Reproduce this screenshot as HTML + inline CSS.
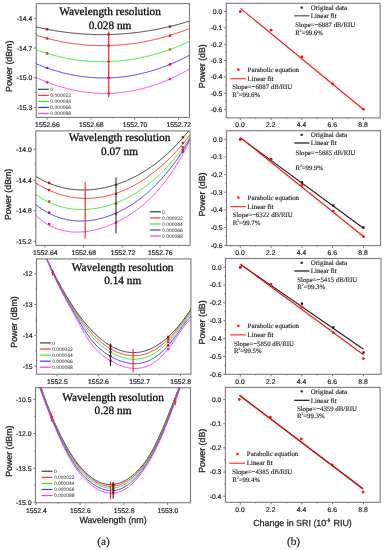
<!DOCTYPE html>
<html><head><meta charset="utf-8"><title>Figure</title>
<style>html,body{margin:0;padding:0;background:#fff;} svg{display:block;} text{text-rendering:geometricPrecision;}</style>
</head><body>
<svg width="384" height="550" viewBox="0 0 384 550">
<rect width="384" height="550" fill="#fff"/>
<rect x="36.25" y="3.6" width="153.25" height="113.80000000000001" fill="none" stroke="#7a7a7a" stroke-width="1.1"/>
<clipPath id="ca1"><rect x="36.25" y="3.6" width="153.25" height="113.80000000000001"/></clipPath>
<g clip-path="url(#ca1)">
<circle cx="47.2" cy="29.3" r="1.35" fill="#ee1111"/>
<circle cx="47.2" cy="38.4" r="1.35" fill="#ee1111"/>
<circle cx="47.2" cy="53.4" r="1.35" fill="#ee1111"/>
<circle cx="47.2" cy="68" r="1.35" fill="#ee1111"/>
<circle cx="47.2" cy="82.3" r="1.35" fill="#ee1111"/>
<circle cx="108.7" cy="34.5" r="1.35" fill="#ee1111"/>
<circle cx="108.7" cy="45.7" r="1.35" fill="#ee1111"/>
<circle cx="108.7" cy="61.6" r="1.35" fill="#ee1111"/>
<circle cx="108.7" cy="77.9" r="1.35" fill="#ee1111"/>
<circle cx="108.7" cy="93.6" r="1.35" fill="#ee1111"/>
<circle cx="170" cy="26.6" r="1.35" fill="#ee1111"/>
<circle cx="170" cy="35.7" r="1.35" fill="#ee1111"/>
<circle cx="170" cy="49.5" r="1.35" fill="#ee1111"/>
<circle cx="170" cy="64.4" r="1.35" fill="#ee1111"/>
<circle cx="170" cy="79.1" r="1.35" fill="#ee1111"/>
<path d="M36.25,26.93 L37.02,27.10 L37.79,27.28 L38.56,27.45 L39.33,27.63 L40.10,27.80 L40.87,27.96 L41.64,28.13 L42.41,28.29 L43.18,28.46 L43.95,28.62 L44.72,28.77 L45.49,28.93 L46.26,29.08 L47.03,29.23 L47.80,29.38 L48.57,29.53 L49.34,29.68 L50.11,29.82 L50.88,29.96 L51.65,30.10 L52.42,30.23 L53.19,30.37 L53.96,30.50 L54.73,30.63 L55.50,30.76 L56.27,30.89 L57.04,31.01 L57.81,31.13 L58.58,31.25 L59.35,31.37 L60.12,31.48 L60.89,31.60 L61.66,31.71 L62.43,31.82 L63.20,31.93 L63.97,32.03 L64.74,32.13 L65.51,32.24 L66.28,32.33 L67.05,32.43 L67.82,32.53 L68.59,32.62 L69.36,32.71 L70.13,32.80 L70.90,32.88 L71.67,32.97 L72.44,33.05 L73.21,33.13 L73.98,33.21 L74.76,33.28 L75.53,33.36 L76.30,33.43 L77.07,33.50 L77.84,33.56 L78.61,33.63 L79.38,33.69 L80.15,33.75 L80.92,33.81 L81.69,33.87 L82.46,33.92 L83.23,33.98 L84.00,34.03 L84.77,34.08 L85.54,34.12 L86.31,34.17 L87.08,34.21 L87.85,34.25 L88.62,34.29 L89.39,34.32 L90.16,34.36 L90.93,34.39 L91.70,34.42 L92.47,34.44 L93.24,34.47 L94.01,34.49 L94.78,34.51 L95.55,34.53 L96.32,34.55 L97.09,34.56 L97.86,34.58 L98.63,34.59 L99.40,34.60 L100.17,34.60 L100.94,34.61 L101.71,34.61 L102.48,34.61 L103.25,34.61 L104.02,34.60 L104.79,34.60 L105.56,34.59 L106.33,34.58 L107.10,34.57 L107.87,34.55 L108.64,34.53 L109.41,34.52 L110.18,34.49 L110.95,34.47 L111.72,34.45 L112.49,34.42 L113.26,34.39 L114.03,34.36 L114.80,34.33 L115.57,34.29 L116.34,34.25 L117.11,34.21 L117.88,34.17 L118.65,34.13 L119.42,34.08 L120.19,34.03 L120.96,33.98 L121.73,33.93 L122.50,33.88 L123.27,33.82 L124.04,33.76 L124.81,33.70 L125.58,33.64 L126.35,33.57 L127.12,33.50 L127.89,33.44 L128.66,33.36 L129.43,33.29 L130.20,33.22 L130.97,33.14 L131.74,33.06 L132.51,32.98 L133.28,32.89 L134.05,32.81 L134.82,32.72 L135.59,32.63 L136.36,32.54 L137.13,32.44 L137.90,32.35 L138.67,32.25 L139.44,32.15 L140.21,32.04 L140.98,31.94 L141.75,31.83 L142.52,31.72 L143.29,31.61 L144.06,31.50 L144.83,31.38 L145.60,31.27 L146.37,31.15 L147.14,31.02 L147.91,30.90 L148.68,30.77 L149.45,30.65 L150.22,30.52 L150.99,30.38 L151.77,30.25 L152.54,30.11 L153.31,29.98 L154.08,29.83 L154.85,29.69 L155.62,29.55 L156.39,29.40 L157.16,29.25 L157.93,29.10 L158.70,28.95 L159.47,28.79 L160.24,28.63 L161.01,28.48 L161.78,28.31 L162.55,28.15 L163.32,27.98 L164.09,27.82 L164.86,27.65 L165.63,27.47 L166.40,27.30 L167.17,27.12 L167.94,26.95 L168.71,26.77 L169.48,26.58 L170.25,26.40 L171.02,26.21 L171.79,26.02 L172.56,25.83 L173.33,25.64 L174.10,25.44 L174.87,25.25 L175.64,25.05 L176.41,24.85 L177.18,24.64 L177.95,24.44 L178.72,24.23 L179.49,24.02 L180.26,23.81 L181.03,23.59 L181.80,23.38 L182.57,23.16 L183.34,22.94 L184.11,22.72 L184.88,22.49 L185.65,22.26 L186.42,22.04 L187.19,21.81 L187.96,21.57 L188.73,21.34 L189.50,21.10" fill="none" stroke="#333333" stroke-width="0.95" />
<path d="M36.25,35.33 L37.02,35.57 L37.79,35.80 L38.56,36.03 L39.33,36.26 L40.10,36.48 L40.87,36.70 L41.64,36.92 L42.41,37.14 L43.18,37.35 L43.95,37.56 L44.72,37.77 L45.49,37.98 L46.26,38.18 L47.03,38.38 L47.80,38.58 L48.57,38.77 L49.34,38.96 L50.11,39.15 L50.88,39.34 L51.65,39.52 L52.42,39.70 L53.19,39.88 L53.96,40.06 L54.73,40.23 L55.50,40.40 L56.27,40.57 L57.04,40.73 L57.81,40.89 L58.58,41.05 L59.35,41.21 L60.12,41.36 L60.89,41.51 L61.66,41.66 L62.43,41.81 L63.20,41.95 L63.97,42.09 L64.74,42.23 L65.51,42.36 L66.28,42.49 L67.05,42.62 L67.82,42.75 L68.59,42.87 L69.36,42.99 L70.13,43.11 L70.90,43.23 L71.67,43.34 L72.44,43.45 L73.21,43.56 L73.98,43.66 L74.76,43.76 L75.53,43.86 L76.30,43.96 L77.07,44.05 L77.84,44.14 L78.61,44.23 L79.38,44.32 L80.15,44.40 L80.92,44.48 L81.69,44.56 L82.46,44.63 L83.23,44.70 L84.00,44.77 L84.77,44.84 L85.54,44.90 L86.31,44.96 L87.08,45.02 L87.85,45.08 L88.62,45.13 L89.39,45.18 L90.16,45.23 L90.93,45.27 L91.70,45.32 L92.47,45.36 L93.24,45.39 L94.01,45.43 L94.78,45.46 L95.55,45.48 L96.32,45.51 L97.09,45.53 L97.86,45.55 L98.63,45.57 L99.40,45.59 L100.17,45.60 L100.94,45.61 L101.71,45.61 L102.48,45.62 L103.25,45.62 L104.02,45.62 L104.79,45.61 L105.56,45.61 L106.33,45.60 L107.10,45.58 L107.87,45.57 L108.64,45.55 L109.41,45.53 L110.18,45.51 L110.95,45.48 L111.72,45.45 L112.49,45.42 L113.26,45.39 L114.03,45.35 L114.80,45.31 L115.57,45.27 L116.34,45.22 L117.11,45.17 L117.88,45.12 L118.65,45.07 L119.42,45.01 L120.19,44.96 L120.96,44.89 L121.73,44.83 L122.50,44.76 L123.27,44.69 L124.04,44.62 L124.81,44.55 L125.58,44.47 L126.35,44.39 L127.12,44.30 L127.89,44.22 L128.66,44.13 L129.43,44.04 L130.20,43.94 L130.97,43.85 L131.74,43.75 L132.51,43.64 L133.28,43.54 L134.05,43.43 L134.82,43.32 L135.59,43.21 L136.36,43.09 L137.13,42.97 L137.90,42.85 L138.67,42.73 L139.44,42.60 L140.21,42.47 L140.98,42.34 L141.75,42.20 L142.52,42.07 L143.29,41.93 L144.06,41.78 L144.83,41.64 L145.60,41.49 L146.37,41.34 L147.14,41.18 L147.91,41.03 L148.68,40.87 L149.45,40.70 L150.22,40.54 L150.99,40.37 L151.77,40.20 L152.54,40.03 L153.31,39.85 L154.08,39.67 L154.85,39.49 L155.62,39.31 L156.39,39.12 L157.16,38.93 L157.93,38.74 L158.70,38.54 L159.47,38.35 L160.24,38.15 L161.01,37.94 L161.78,37.74 L162.55,37.53 L163.32,37.32 L164.09,37.10 L164.86,36.89 L165.63,36.67 L166.40,36.44 L167.17,36.22 L167.94,35.99 L168.71,35.76 L169.48,35.53 L170.25,35.29 L171.02,35.05 L171.79,34.81 L172.56,34.57 L173.33,34.32 L174.10,34.07 L174.87,33.82 L175.64,33.57 L176.41,33.31 L177.18,33.05 L177.95,32.78 L178.72,32.52 L179.49,32.25 L180.26,31.98 L181.03,31.71 L181.80,31.43 L182.57,31.15 L183.34,30.87 L184.11,30.58 L184.88,30.30 L185.65,30.00 L186.42,29.71 L187.19,29.42 L187.96,29.12 L188.73,28.82 L189.50,28.51" fill="none" stroke="#ff2a2a" stroke-width="0.95" />
<path d="M36.25,49.93 L37.02,50.20 L37.79,50.47 L38.56,50.73 L39.33,51.00 L40.10,51.26 L40.87,51.51 L41.64,51.77 L42.41,52.02 L43.18,52.26 L43.95,52.51 L44.72,52.75 L45.49,52.99 L46.26,53.22 L47.03,53.45 L47.80,53.68 L48.57,53.90 L49.34,54.13 L50.11,54.34 L50.88,54.56 L51.65,54.77 L52.42,54.98 L53.19,55.19 L53.96,55.39 L54.73,55.59 L55.50,55.78 L56.27,55.98 L57.04,56.17 L57.81,56.35 L58.58,56.54 L59.35,56.72 L60.12,56.89 L60.89,57.07 L61.66,57.24 L62.43,57.40 L63.20,57.57 L63.97,57.73 L64.74,57.89 L65.51,58.04 L66.28,58.19 L67.05,58.34 L67.82,58.49 L68.59,58.63 L69.36,58.77 L70.13,58.90 L70.90,59.03 L71.67,59.16 L72.44,59.29 L73.21,59.41 L73.98,59.53 L74.76,59.65 L75.53,59.76 L76.30,59.87 L77.07,59.98 L77.84,60.08 L78.61,60.18 L79.38,60.28 L80.15,60.37 L80.92,60.46 L81.69,60.55 L82.46,60.63 L83.23,60.71 L84.00,60.79 L84.77,60.87 L85.54,60.94 L86.31,61.01 L87.08,61.07 L87.85,61.13 L88.62,61.19 L89.39,61.25 L90.16,61.30 L90.93,61.35 L91.70,61.40 L92.47,61.44 L93.24,61.48 L94.01,61.52 L94.78,61.55 L95.55,61.58 L96.32,61.61 L97.09,61.63 L97.86,61.65 L98.63,61.67 L99.40,61.68 L100.17,61.69 L100.94,61.70 L101.71,61.71 L102.48,61.71 L103.25,61.71 L104.02,61.70 L104.79,61.69 L105.56,61.68 L106.33,61.67 L107.10,61.65 L107.87,61.63 L108.64,61.60 L109.41,61.58 L110.18,61.55 L110.95,61.51 L111.72,61.48 L112.49,61.44 L113.26,61.39 L114.03,61.35 L114.80,61.30 L115.57,61.24 L116.34,61.19 L117.11,61.13 L117.88,61.07 L118.65,61.00 L119.42,60.93 L120.19,60.86 L120.96,60.79 L121.73,60.71 L122.50,60.63 L123.27,60.54 L124.04,60.45 L124.81,60.36 L125.58,60.27 L126.35,60.17 L127.12,60.07 L127.89,59.97 L128.66,59.86 L129.43,59.75 L130.20,59.64 L130.97,59.52 L131.74,59.40 L132.51,59.28 L133.28,59.15 L134.05,59.02 L134.82,58.89 L135.59,58.75 L136.36,58.61 L137.13,58.47 L137.90,58.33 L138.67,58.18 L139.44,58.03 L140.21,57.87 L140.98,57.71 L141.75,57.55 L142.52,57.39 L143.29,57.22 L144.06,57.05 L144.83,56.88 L145.60,56.70 L146.37,56.52 L147.14,56.34 L147.91,56.15 L148.68,55.96 L149.45,55.77 L150.22,55.57 L150.99,55.37 L151.77,55.17 L152.54,54.96 L153.31,54.75 L154.08,54.54 L154.85,54.32 L155.62,54.11 L156.39,53.88 L157.16,53.66 L157.93,53.43 L158.70,53.20 L159.47,52.96 L160.24,52.73 L161.01,52.49 L161.78,52.24 L162.55,51.99 L163.32,51.74 L164.09,51.49 L164.86,51.23 L165.63,50.97 L166.40,50.71 L167.17,50.44 L167.94,50.17 L168.71,49.90 L169.48,49.63 L170.25,49.35 L171.02,49.06 L171.79,48.78 L172.56,48.49 L173.33,48.20 L174.10,47.90 L174.87,47.60 L175.64,47.30 L176.41,47.00 L177.18,46.69 L177.95,46.38 L178.72,46.06 L179.49,45.75 L180.26,45.43 L181.03,45.10 L181.80,44.78 L182.57,44.45 L183.34,44.11 L184.11,43.78 L184.88,43.44 L185.65,43.09 L186.42,42.75 L187.19,42.40 L187.96,42.04 L188.73,41.69 L189.50,41.33" fill="none" stroke="#22ee22" stroke-width="0.95" />
<path d="M36.25,63.85 L37.02,64.17 L37.79,64.48 L38.56,64.79 L39.33,65.10 L40.10,65.41 L40.87,65.71 L41.64,66.01 L42.41,66.30 L43.18,66.59 L43.95,66.88 L44.72,67.16 L45.49,67.44 L46.26,67.72 L47.03,67.99 L47.80,68.26 L48.57,68.52 L49.34,68.79 L50.11,69.04 L50.88,69.30 L51.65,69.55 L52.42,69.79 L53.19,70.04 L53.96,70.28 L54.73,70.51 L55.50,70.74 L56.27,70.97 L57.04,71.20 L57.81,71.42 L58.58,71.63 L59.35,71.85 L60.12,72.06 L60.89,72.26 L61.66,72.47 L62.43,72.67 L63.20,72.86 L63.97,73.05 L64.74,73.24 L65.51,73.42 L66.28,73.60 L67.05,73.78 L67.82,73.95 L68.59,74.12 L69.36,74.29 L70.13,74.45 L70.90,74.61 L71.67,74.76 L72.44,74.92 L73.21,75.06 L73.98,75.21 L74.76,75.35 L75.53,75.48 L76.30,75.62 L77.07,75.75 L77.84,75.87 L78.61,75.99 L79.38,76.11 L80.15,76.23 L80.92,76.34 L81.69,76.44 L82.46,76.55 L83.23,76.65 L84.00,76.74 L84.77,76.83 L85.54,76.92 L86.31,77.01 L87.08,77.09 L87.85,77.17 L88.62,77.24 L89.39,77.31 L90.16,77.38 L90.93,77.44 L91.70,77.50 L92.47,77.56 L93.24,77.61 L94.01,77.66 L94.78,77.70 L95.55,77.74 L96.32,77.78 L97.09,77.81 L97.86,77.84 L98.63,77.87 L99.40,77.89 L100.17,77.91 L100.94,77.93 L101.71,77.94 L102.48,77.95 L103.25,77.95 L104.02,77.95 L104.79,77.95 L105.56,77.94 L106.33,77.93 L107.10,77.92 L107.87,77.90 L108.64,77.88 L109.41,77.85 L110.18,77.82 L110.95,77.79 L111.72,77.76 L112.49,77.72 L113.26,77.67 L114.03,77.63 L114.80,77.57 L115.57,77.52 L116.34,77.46 L117.11,77.40 L117.88,77.34 L118.65,77.27 L119.42,77.19 L120.19,77.12 L120.96,77.04 L121.73,76.95 L122.50,76.87 L123.27,76.77 L124.04,76.68 L124.81,76.58 L125.58,76.48 L126.35,76.37 L127.12,76.26 L127.89,76.15 L128.66,76.03 L129.43,75.91 L130.20,75.79 L130.97,75.66 L131.74,75.53 L132.51,75.39 L133.28,75.26 L134.05,75.11 L134.82,74.97 L135.59,74.82 L136.36,74.66 L137.13,74.51 L137.90,74.35 L138.67,74.18 L139.44,74.01 L140.21,73.84 L140.98,73.67 L141.75,73.49 L142.52,73.30 L143.29,73.12 L144.06,72.93 L144.83,72.73 L145.60,72.53 L146.37,72.33 L147.14,72.13 L147.91,71.92 L148.68,71.71 L149.45,71.49 L150.22,71.27 L150.99,71.05 L151.77,70.82 L152.54,70.59 L153.31,70.36 L154.08,70.12 L154.85,69.88 L155.62,69.63 L156.39,69.38 L157.16,69.13 L157.93,68.87 L158.70,68.61 L159.47,68.35 L160.24,68.08 L161.01,67.81 L161.78,67.54 L162.55,67.26 L163.32,66.98 L164.09,66.69 L164.86,66.40 L165.63,66.11 L166.40,65.81 L167.17,65.51 L167.94,65.21 L168.71,64.90 L169.48,64.59 L170.25,64.27 L171.02,63.96 L171.79,63.63 L172.56,63.31 L173.33,62.98 L174.10,62.64 L174.87,62.31 L175.64,61.97 L176.41,61.62 L177.18,61.27 L177.95,60.92 L178.72,60.57 L179.49,60.21 L180.26,59.84 L181.03,59.48 L181.80,59.11 L182.57,58.73 L183.34,58.36 L184.11,57.98 L184.88,57.59 L185.65,57.20 L186.42,56.81 L187.19,56.42 L187.96,56.02 L188.73,55.61 L189.50,55.21" fill="none" stroke="#3333ff" stroke-width="0.95" />
<path d="M36.25,77.47 L37.02,77.83 L37.79,78.18 L38.56,78.53 L39.33,78.87 L40.10,79.21 L40.87,79.55 L41.64,79.88 L42.41,80.21 L43.18,80.54 L43.95,80.86 L44.72,81.17 L45.49,81.48 L46.26,81.79 L47.03,82.10 L47.80,82.40 L48.57,82.69 L49.34,82.98 L50.11,83.27 L50.88,83.56 L51.65,83.84 L52.42,84.11 L53.19,84.38 L53.96,84.65 L54.73,84.92 L55.50,85.17 L56.27,85.43 L57.04,85.68 L57.81,85.93 L58.58,86.17 L59.35,86.41 L60.12,86.65 L60.89,86.88 L61.66,87.11 L62.43,87.33 L63.20,87.55 L63.97,87.77 L64.74,87.98 L65.51,88.18 L66.28,88.39 L67.05,88.59 L67.82,88.78 L68.59,88.97 L69.36,89.16 L70.13,89.34 L70.90,89.52 L71.67,89.70 L72.44,89.87 L73.21,90.04 L73.98,90.20 L74.76,90.36 L75.53,90.51 L76.30,90.66 L77.07,90.81 L77.84,90.95 L78.61,91.09 L79.38,91.23 L80.15,91.36 L80.92,91.48 L81.69,91.61 L82.46,91.72 L83.23,91.84 L84.00,91.95 L84.77,92.06 L85.54,92.16 L86.31,92.26 L87.08,92.35 L87.85,92.44 L88.62,92.53 L89.39,92.61 L90.16,92.69 L90.93,92.76 L91.70,92.83 L92.47,92.90 L93.24,92.96 L94.01,93.02 L94.78,93.07 L95.55,93.12 L96.32,93.17 L97.09,93.21 L97.86,93.25 L98.63,93.28 L99.40,93.31 L100.17,93.34 L100.94,93.36 L101.71,93.38 L102.48,93.39 L103.25,93.40 L104.02,93.41 L104.79,93.41 L105.56,93.41 L106.33,93.40 L107.10,93.39 L107.87,93.38 L108.64,93.36 L109.41,93.34 L110.18,93.31 L110.95,93.28 L111.72,93.25 L112.49,93.21 L113.26,93.16 L114.03,93.12 L114.80,93.07 L115.57,93.01 L116.34,92.95 L117.11,92.89 L117.88,92.82 L118.65,92.75 L119.42,92.68 L120.19,92.60 L120.96,92.52 L121.73,92.43 L122.50,92.34 L123.27,92.24 L124.04,92.14 L124.81,92.04 L125.58,91.93 L126.35,91.82 L127.12,91.71 L127.89,91.59 L128.66,91.47 L129.43,91.34 L130.20,91.21 L130.97,91.07 L131.74,90.93 L132.51,90.79 L133.28,90.64 L134.05,90.49 L134.82,90.33 L135.59,90.17 L136.36,90.01 L137.13,89.84 L137.90,89.67 L138.67,89.50 L139.44,89.32 L140.21,89.13 L140.98,88.95 L141.75,88.75 L142.52,88.56 L143.29,88.36 L144.06,88.15 L144.83,87.95 L145.60,87.73 L146.37,87.52 L147.14,87.30 L147.91,87.07 L148.68,86.85 L149.45,86.61 L150.22,86.38 L150.99,86.14 L151.77,85.89 L152.54,85.65 L153.31,85.39 L154.08,85.14 L154.85,84.88 L155.62,84.61 L156.39,84.34 L157.16,84.07 L157.93,83.80 L158.70,83.52 L159.47,83.23 L160.24,82.94 L161.01,82.65 L161.78,82.35 L162.55,82.05 L163.32,81.75 L164.09,81.44 L164.86,81.13 L165.63,80.81 L166.40,80.49 L167.17,80.16 L167.94,79.84 L168.71,79.50 L169.48,79.17 L170.25,78.83 L171.02,78.48 L171.79,78.13 L172.56,77.78 L173.33,77.42 L174.10,77.06 L174.87,76.70 L175.64,76.33 L176.41,75.95 L177.18,75.58 L177.95,75.19 L178.72,74.81 L179.49,74.42 L180.26,74.03 L181.03,73.63 L181.80,73.23 L182.57,72.82 L183.34,72.41 L184.11,72.00 L184.88,71.58 L185.65,71.16 L186.42,70.74 L187.19,70.31 L187.96,69.87 L188.73,69.43 L189.50,68.99" fill="none" stroke="#ff33ff" stroke-width="0.95" />
<line x1="108.7" y1="31.8" x2="108.7" y2="97.3" stroke="#ff1a1a" stroke-width="1.1"/>
</g>
<text x="110" y="15.200000000000001" font-family="Liberation Serif, serif" font-size="11.3" fill="#050505" stroke="#050505" stroke-width="0.26" text-anchor="middle" >Wavelength resolution</text>
<text x="110" y="28.6" font-family="Liberation Serif, serif" font-size="11.3" fill="#050505" stroke="#050505" stroke-width="0.26" text-anchor="middle" >0.028 nm</text>
<line x1="38" y1="89.3" x2="48.9" y2="89.3" stroke="#333333" stroke-width="1.15"/>
<text x="50.3" y="91.1" font-family="Liberation Sans, sans-serif" font-size="4.95" fill="#404040" stroke="#404040" stroke-width="0.04" text-anchor="start" >0</text>
<line x1="38" y1="95.34" x2="48.9" y2="95.34" stroke="#ff2a2a" stroke-width="1.15"/>
<text x="50.3" y="97.14" font-family="Liberation Sans, sans-serif" font-size="4.95" fill="#404040" stroke="#404040" stroke-width="0.04" text-anchor="start" >0.000022</text>
<line x1="38" y1="101.38" x2="48.9" y2="101.38" stroke="#22ee22" stroke-width="1.15"/>
<text x="50.3" y="103.17999999999999" font-family="Liberation Sans, sans-serif" font-size="4.95" fill="#404040" stroke="#404040" stroke-width="0.04" text-anchor="start" >0.000044</text>
<line x1="38" y1="107.42" x2="48.9" y2="107.42" stroke="#3333ff" stroke-width="1.15"/>
<text x="50.3" y="109.22" font-family="Liberation Sans, sans-serif" font-size="4.95" fill="#404040" stroke="#404040" stroke-width="0.04" text-anchor="start" >0.000066</text>
<line x1="38" y1="113.46" x2="48.9" y2="113.46" stroke="#ff33ff" stroke-width="1.15"/>
<text x="50.3" y="115.25999999999999" font-family="Liberation Sans, sans-serif" font-size="4.95" fill="#404040" stroke="#404040" stroke-width="0.04" text-anchor="start" >0.000088</text>
<line x1="34.05" y1="18.4" x2="36.25" y2="18.4" stroke="#7a7a7a" stroke-width="1"/>
<text x="32.25" y="20.799999999999997" font-family="Liberation Sans, sans-serif" font-size="6.8" fill="#1e1e1e" stroke="#1e1e1e" stroke-width="0.2" text-anchor="end" >-14.4</text>
<line x1="34.05" y1="48.1" x2="36.25" y2="48.1" stroke="#7a7a7a" stroke-width="1"/>
<text x="32.25" y="50.5" font-family="Liberation Sans, sans-serif" font-size="6.8" fill="#1e1e1e" stroke="#1e1e1e" stroke-width="0.2" text-anchor="end" >-14.7</text>
<line x1="34.05" y1="77.7" x2="36.25" y2="77.7" stroke="#7a7a7a" stroke-width="1"/>
<text x="32.25" y="80.10000000000001" font-family="Liberation Sans, sans-serif" font-size="6.8" fill="#1e1e1e" stroke="#1e1e1e" stroke-width="0.2" text-anchor="end" >-15.0</text>
<line x1="34.05" y1="107.4" x2="36.25" y2="107.4" stroke="#7a7a7a" stroke-width="1"/>
<text x="32.25" y="109.80000000000001" font-family="Liberation Sans, sans-serif" font-size="6.8" fill="#1e1e1e" stroke="#1e1e1e" stroke-width="0.2" text-anchor="end" >-15.3</text>
<line x1="35.05" y1="33.2" x2="36.25" y2="33.2" stroke="#7a7a7a" stroke-width="0.8"/>
<line x1="35.05" y1="62.9" x2="36.25" y2="62.9" stroke="#7a7a7a" stroke-width="0.8"/>
<line x1="35.05" y1="92.5" x2="36.25" y2="92.5" stroke="#7a7a7a" stroke-width="0.8"/>
<line x1="47.1" y1="117.4" x2="47.1" y2="119.60000000000001" stroke="#7a7a7a" stroke-width="1"/>
<text x="47.4" y="127.30000000000001" font-family="Liberation Sans, sans-serif" font-size="6.8" fill="#1e1e1e" stroke="#1e1e1e" stroke-width="0.2" text-anchor="middle" >1552.66</text>
<line x1="90.9" y1="117.4" x2="90.9" y2="119.60000000000001" stroke="#7a7a7a" stroke-width="1"/>
<text x="91.2" y="127.30000000000001" font-family="Liberation Sans, sans-serif" font-size="6.8" fill="#1e1e1e" stroke="#1e1e1e" stroke-width="0.2" text-anchor="middle" >1552.68</text>
<line x1="134.7" y1="117.4" x2="134.7" y2="119.60000000000001" stroke="#7a7a7a" stroke-width="1"/>
<text x="135.0" y="127.30000000000001" font-family="Liberation Sans, sans-serif" font-size="6.8" fill="#1e1e1e" stroke="#1e1e1e" stroke-width="0.2" text-anchor="middle" >1552.70</text>
<line x1="178.5" y1="117.4" x2="178.5" y2="119.60000000000001" stroke="#7a7a7a" stroke-width="1"/>
<text x="178.8" y="127.30000000000001" font-family="Liberation Sans, sans-serif" font-size="6.8" fill="#1e1e1e" stroke="#1e1e1e" stroke-width="0.2" text-anchor="middle" >1552.72</text>
<line x1="69" y1="117.4" x2="69" y2="118.60000000000001" stroke="#7a7a7a" stroke-width="0.8"/>
<line x1="112.8" y1="117.4" x2="112.8" y2="118.60000000000001" stroke="#7a7a7a" stroke-width="0.8"/>
<line x1="156.6" y1="117.4" x2="156.6" y2="118.60000000000001" stroke="#7a7a7a" stroke-width="0.8"/>
<text x="11.8" y="66.3" font-family="Liberation Sans, sans-serif" font-size="8.8" fill="#1e1e1e" stroke="#1e1e1e" stroke-width="0.3" text-anchor="middle" transform="rotate(-90 11.8 66.3)">Power (dBm)</text>
<rect x="35.8" y="130.9" width="154.3" height="114.5" fill="none" stroke="#7a7a7a" stroke-width="1.1"/>
<clipPath id="ca2"><rect x="35.8" y="130.9" width="154.3" height="114.5"/></clipPath>
<g clip-path="url(#ca2)">
<circle cx="49.1" cy="182.9" r="1.35" fill="#ee1111"/>
<circle cx="49.1" cy="190" r="1.35" fill="#ee1111"/>
<circle cx="49.1" cy="201.5" r="1.35" fill="#ee1111"/>
<circle cx="49.1" cy="212.5" r="1.35" fill="#ee1111"/>
<circle cx="49.1" cy="224" r="1.35" fill="#ee1111"/>
<circle cx="116" cy="184.8" r="1.35" fill="#ee1111"/>
<circle cx="116" cy="193.8" r="1.35" fill="#ee1111"/>
<circle cx="116" cy="203.4" r="1.35" fill="#ee1111"/>
<circle cx="116" cy="213.7" r="1.35" fill="#ee1111"/>
<circle cx="116" cy="222.7" r="1.35" fill="#ee1111"/>
<circle cx="182.9" cy="137.3" r="1.35" fill="#ee1111"/>
<circle cx="182.9" cy="143.1" r="1.35" fill="#ee1111"/>
<circle cx="182.9" cy="147.2" r="1.35" fill="#ee1111"/>
<circle cx="182.9" cy="149.6" r="1.35" fill="#ee1111"/>
<circle cx="182.9" cy="151.8" r="1.35" fill="#ee1111"/>
<path d="M35.80,176.38 L36.58,176.85 L37.35,177.32 L38.13,177.78 L38.90,178.22 L39.68,178.66 L40.45,179.09 L41.23,179.51 L42.00,179.91 L42.78,180.31 L43.55,180.70 L44.33,181.09 L45.10,181.46 L45.88,181.82 L46.66,182.18 L47.43,182.52 L48.21,182.86 L48.98,183.19 L49.76,183.51 L50.53,183.82 L51.31,184.12 L52.08,184.41 L52.86,184.70 L53.63,184.98 L54.41,185.25 L55.18,185.51 L55.96,185.76 L56.74,186.01 L57.51,186.24 L58.29,186.47 L59.06,186.70 L59.84,186.91 L60.61,187.12 L61.39,187.31 L62.16,187.51 L62.94,187.69 L63.71,187.87 L64.49,188.03 L65.26,188.20 L66.04,188.35 L66.82,188.50 L67.59,188.64 L68.37,188.77 L69.14,188.89 L69.92,189.01 L70.69,189.12 L71.47,189.23 L72.24,189.33 L73.02,189.42 L73.79,189.50 L74.57,189.58 L75.34,189.65 L76.12,189.71 L76.89,189.77 L77.67,189.82 L78.45,189.86 L79.22,189.90 L80.00,189.93 L80.77,189.96 L81.55,189.97 L82.32,189.98 L83.10,189.99 L83.87,189.99 L84.65,189.98 L85.42,189.97 L86.20,189.95 L86.97,189.92 L87.75,189.89 L88.53,189.85 L89.30,189.81 L90.08,189.75 L90.85,189.70 L91.63,189.63 L92.40,189.57 L93.18,189.49 L93.95,189.41 L94.73,189.32 L95.50,189.23 L96.28,189.13 L97.05,189.02 L97.83,188.91 L98.61,188.80 L99.38,188.67 L100.16,188.54 L100.93,188.41 L101.71,188.27 L102.48,188.12 L103.26,187.97 L104.03,187.81 L104.81,187.65 L105.58,187.48 L106.36,187.30 L107.13,187.12 L107.91,186.93 L108.69,186.74 L109.46,186.54 L110.24,186.34 L111.01,186.12 L111.79,185.91 L112.56,185.69 L113.34,185.46 L114.11,185.22 L114.89,184.98 L115.66,184.74 L116.44,184.48 L117.21,184.23 L117.99,183.96 L118.77,183.69 L119.54,183.42 L120.32,183.14 L121.09,182.85 L121.87,182.55 L122.64,182.26 L123.42,181.95 L124.19,181.64 L124.97,181.32 L125.74,181.00 L126.52,180.67 L127.29,180.33 L128.07,179.99 L128.85,179.64 L129.62,179.29 L130.40,178.93 L131.17,178.56 L131.95,178.19 L132.72,177.81 L133.50,177.42 L134.27,177.03 L135.05,176.63 L135.82,176.23 L136.60,175.81 L137.37,175.40 L138.15,174.97 L138.93,174.54 L139.70,174.10 L140.48,173.66 L141.25,173.21 L142.03,172.75 L142.80,172.29 L143.58,171.82 L144.35,171.34 L145.13,170.85 L145.90,170.36 L146.68,169.86 L147.45,169.36 L148.23,168.85 L149.01,168.33 L149.78,167.80 L150.56,167.27 L151.33,166.72 L152.11,166.18 L152.88,165.62 L153.66,165.06 L154.43,164.49 L155.21,163.91 L155.98,163.32 L156.76,162.73 L157.53,162.13 L158.31,161.52 L159.08,160.90 L159.86,160.27 L160.64,159.64 L161.41,159.00 L162.19,158.35 L162.96,157.69 L163.74,157.03 L164.51,156.36 L165.29,155.67 L166.06,154.98 L166.84,154.29 L167.61,153.58 L168.39,152.86 L169.16,152.14 L169.94,151.40 L170.72,150.66 L171.49,149.91 L172.27,149.15 L173.04,148.38 L173.82,147.60 L174.59,146.81 L175.37,146.02 L176.14,145.21 L176.92,144.40 L177.69,143.57 L178.47,142.74 L179.24,141.89 L180.02,141.04 L180.80,140.17 L181.57,139.30 L182.35,138.41 L183.12,137.52 L183.90,136.61 L184.67,135.70 L185.45,134.77 L186.22,133.83 L187.00,132.89 L187.77,131.93 L188.55,130.96 L189.32,129.98 L190.10,128.99" fill="none" stroke="#333333" stroke-width="0.95" />
<path d="M35.80,183.03 L36.58,183.52 L37.35,184.00 L38.13,184.47 L38.90,184.93 L39.68,185.38 L40.45,185.82 L41.23,186.26 L42.00,186.69 L42.78,187.11 L43.55,187.52 L44.33,187.92 L45.10,188.32 L45.88,188.70 L46.66,189.08 L47.43,189.45 L48.21,189.81 L48.98,190.17 L49.76,190.52 L50.53,190.85 L51.31,191.18 L52.08,191.51 L52.86,191.82 L53.63,192.13 L54.41,192.43 L55.18,192.72 L55.96,193.01 L56.74,193.28 L57.51,193.55 L58.29,193.82 L59.06,194.07 L59.84,194.32 L60.61,194.55 L61.39,194.79 L62.16,195.01 L62.94,195.23 L63.71,195.44 L64.49,195.64 L65.26,195.83 L66.04,196.02 L66.82,196.20 L67.59,196.37 L68.37,196.54 L69.14,196.70 L69.92,196.85 L70.69,196.99 L71.47,197.13 L72.24,197.26 L73.02,197.38 L73.79,197.49 L74.57,197.60 L75.34,197.70 L76.12,197.79 L76.89,197.88 L77.67,197.96 L78.45,198.03 L79.22,198.10 L80.00,198.16 L80.77,198.21 L81.55,198.25 L82.32,198.29 L83.10,198.32 L83.87,198.35 L84.65,198.36 L85.42,198.37 L86.20,198.38 L86.97,198.37 L87.75,198.36 L88.53,198.34 L89.30,198.32 L90.08,198.29 L90.85,198.25 L91.63,198.21 L92.40,198.16 L93.18,198.10 L93.95,198.03 L94.73,197.96 L95.50,197.88 L96.28,197.80 L97.05,197.70 L97.83,197.60 L98.61,197.50 L99.38,197.39 L100.16,197.27 L100.93,197.14 L101.71,197.01 L102.48,196.87 L103.26,196.72 L104.03,196.57 L104.81,196.41 L105.58,196.24 L106.36,196.07 L107.13,195.89 L107.91,195.70 L108.69,195.51 L109.46,195.31 L110.24,195.10 L111.01,194.89 L111.79,194.67 L112.56,194.44 L113.34,194.21 L114.11,193.97 L114.89,193.72 L115.66,193.46 L116.44,193.20 L117.21,192.93 L117.99,192.66 L118.77,192.38 L119.54,192.09 L120.32,191.79 L121.09,191.49 L121.87,191.18 L122.64,190.87 L123.42,190.55 L124.19,190.22 L124.97,189.88 L125.74,189.54 L126.52,189.19 L127.29,188.83 L128.07,188.46 L128.85,188.09 L129.62,187.72 L130.40,187.33 L131.17,186.94 L131.95,186.54 L132.72,186.13 L133.50,185.72 L134.27,185.30 L135.05,184.87 L135.82,184.44 L136.60,184.00 L137.37,183.55 L138.15,183.10 L138.93,182.63 L139.70,182.16 L140.48,181.69 L141.25,181.20 L142.03,180.71 L142.80,180.21 L143.58,179.71 L144.35,179.19 L145.13,178.67 L145.90,178.14 L146.68,177.61 L147.45,177.07 L148.23,176.52 L149.01,175.96 L149.78,175.39 L150.56,174.82 L151.33,174.24 L152.11,173.65 L152.88,173.06 L153.66,172.45 L154.43,171.84 L155.21,171.23 L155.98,170.60 L156.76,169.97 L157.53,169.32 L158.31,168.68 L159.08,168.02 L159.86,167.35 L160.64,166.68 L161.41,166.00 L162.19,165.31 L162.96,164.62 L163.74,163.91 L164.51,163.20 L165.29,162.48 L166.06,161.75 L166.84,161.01 L167.61,160.27 L168.39,159.51 L169.16,158.75 L169.94,157.98 L170.72,157.20 L171.49,156.42 L172.27,155.62 L173.04,154.82 L173.82,154.01 L174.59,153.19 L175.37,152.36 L176.14,151.52 L176.92,150.67 L177.69,149.82 L178.47,148.95 L179.24,148.08 L180.02,147.20 L180.80,146.31 L181.57,145.41 L182.35,144.50 L183.12,143.58 L183.90,142.66 L184.67,141.72 L185.45,140.78 L186.22,139.83 L187.00,138.86 L187.77,137.89 L188.55,136.91 L189.32,135.92 L190.10,134.92" fill="none" stroke="#ff2a2a" stroke-width="0.95" />
<path d="M35.80,194.28 L36.58,194.83 L37.35,195.37 L38.13,195.90 L38.90,196.42 L39.68,196.92 L40.45,197.42 L41.23,197.90 L42.00,198.37 L42.78,198.83 L43.55,199.28 L44.33,199.72 L45.10,200.14 L45.88,200.56 L46.66,200.97 L47.43,201.36 L48.21,201.75 L48.98,202.12 L49.76,202.48 L50.53,202.84 L51.31,203.18 L52.08,203.51 L52.86,203.84 L53.63,204.15 L54.41,204.45 L55.18,204.75 L55.96,205.03 L56.74,205.31 L57.51,205.57 L58.29,205.83 L59.06,206.08 L59.84,206.31 L60.61,206.54 L61.39,206.76 L62.16,206.97 L62.94,207.18 L63.71,207.37 L64.49,207.55 L65.26,207.73 L66.04,207.90 L66.82,208.06 L67.59,208.21 L68.37,208.35 L69.14,208.48 L69.92,208.61 L70.69,208.73 L71.47,208.83 L72.24,208.94 L73.02,209.03 L73.79,209.11 L74.57,209.19 L75.34,209.26 L76.12,209.32 L76.89,209.38 L77.67,209.42 L78.45,209.46 L79.22,209.49 L80.00,209.52 L80.77,209.53 L81.55,209.54 L82.32,209.54 L83.10,209.54 L83.87,209.53 L84.65,209.51 L85.42,209.48 L86.20,209.44 L86.97,209.40 L87.75,209.35 L88.53,209.30 L89.30,209.23 L90.08,209.16 L90.85,209.09 L91.63,209.00 L92.40,208.91 L93.18,208.81 L93.95,208.71 L94.73,208.60 L95.50,208.48 L96.28,208.35 L97.05,208.22 L97.83,208.08 L98.61,207.94 L99.38,207.78 L100.16,207.63 L100.93,207.46 L101.71,207.29 L102.48,207.11 L103.26,206.92 L104.03,206.73 L104.81,206.53 L105.58,206.32 L106.36,206.11 L107.13,205.89 L107.91,205.67 L108.69,205.44 L109.46,205.20 L110.24,204.95 L111.01,204.70 L111.79,204.44 L112.56,204.17 L113.34,203.90 L114.11,203.62 L114.89,203.34 L115.66,203.04 L116.44,202.75 L117.21,202.44 L117.99,202.13 L118.77,201.81 L119.54,201.48 L120.32,201.15 L121.09,200.81 L121.87,200.46 L122.64,200.11 L123.42,199.75 L124.19,199.38 L124.97,199.01 L125.74,198.63 L126.52,198.24 L127.29,197.84 L128.07,197.44 L128.85,197.03 L129.62,196.62 L130.40,196.19 L131.17,195.76 L131.95,195.32 L132.72,194.88 L133.50,194.43 L134.27,193.97 L135.05,193.50 L135.82,193.03 L136.60,192.54 L137.37,192.05 L138.15,191.56 L138.93,191.05 L139.70,190.54 L140.48,190.02 L141.25,189.49 L142.03,188.96 L142.80,188.41 L143.58,187.86 L144.35,187.30 L145.13,186.74 L145.90,186.16 L146.68,185.58 L147.45,184.98 L148.23,184.38 L149.01,183.77 L149.78,183.16 L150.56,182.53 L151.33,181.90 L152.11,181.25 L152.88,180.60 L153.66,179.94 L154.43,179.27 L155.21,178.60 L155.98,177.91 L156.76,177.21 L157.53,176.51 L158.31,175.79 L159.08,175.07 L159.86,174.33 L160.64,173.59 L161.41,172.84 L162.19,172.08 L162.96,171.30 L163.74,170.52 L164.51,169.73 L165.29,168.93 L166.06,168.12 L166.84,167.30 L167.61,166.46 L168.39,165.62 L169.16,164.77 L169.94,163.90 L170.72,163.03 L171.49,162.14 L172.27,161.25 L173.04,160.34 L173.82,159.42 L174.59,158.49 L175.37,157.55 L176.14,156.60 L176.92,155.63 L177.69,154.66 L178.47,153.67 L179.24,152.67 L180.02,151.66 L180.80,150.63 L181.57,149.60 L182.35,148.55 L183.12,147.49 L183.90,146.41 L184.67,145.33 L185.45,144.23 L186.22,143.12 L187.00,141.99 L187.77,140.85 L188.55,139.70 L189.32,138.53 L190.10,137.35" fill="none" stroke="#22ee22" stroke-width="0.95" />
<path d="M35.80,204.59 L36.58,205.20 L37.35,205.80 L38.13,206.39 L38.90,206.96 L39.68,207.52 L40.45,208.07 L41.23,208.60 L42.00,209.12 L42.78,209.63 L43.55,210.12 L44.33,210.60 L45.10,211.07 L45.88,211.53 L46.66,211.97 L47.43,212.41 L48.21,212.83 L48.98,213.23 L49.76,213.63 L50.53,214.02 L51.31,214.39 L52.08,214.75 L52.86,215.10 L53.63,215.44 L54.41,215.77 L55.18,216.09 L55.96,216.40 L56.74,216.69 L57.51,216.98 L58.29,217.26 L59.06,217.52 L59.84,217.77 L60.61,218.02 L61.39,218.25 L62.16,218.48 L62.94,218.69 L63.71,218.89 L64.49,219.09 L65.26,219.27 L66.04,219.45 L66.82,219.61 L67.59,219.77 L68.37,219.91 L69.14,220.05 L69.92,220.18 L70.69,220.30 L71.47,220.40 L72.24,220.51 L73.02,220.60 L73.79,220.68 L74.57,220.75 L75.34,220.82 L76.12,220.87 L76.89,220.92 L77.67,220.96 L78.45,220.99 L79.22,221.01 L80.00,221.03 L80.77,221.03 L81.55,221.03 L82.32,221.02 L83.10,221.00 L83.87,220.97 L84.65,220.94 L85.42,220.89 L86.20,220.84 L86.97,220.78 L87.75,220.72 L88.53,220.64 L89.30,220.56 L90.08,220.47 L90.85,220.37 L91.63,220.26 L92.40,220.15 L93.18,220.03 L93.95,219.90 L94.73,219.76 L95.50,219.62 L96.28,219.47 L97.05,219.31 L97.83,219.14 L98.61,218.97 L99.38,218.78 L100.16,218.60 L100.93,218.40 L101.71,218.20 L102.48,217.98 L103.26,217.77 L104.03,217.54 L104.81,217.31 L105.58,217.07 L106.36,216.82 L107.13,216.56 L107.91,216.30 L108.69,216.03 L109.46,215.75 L110.24,215.47 L111.01,215.18 L111.79,214.88 L112.56,214.57 L113.34,214.25 L114.11,213.93 L114.89,213.60 L115.66,213.27 L116.44,212.92 L117.21,212.57 L117.99,212.21 L118.77,211.85 L119.54,211.47 L120.32,211.09 L121.09,210.70 L121.87,210.31 L122.64,209.90 L123.42,209.49 L124.19,209.07 L124.97,208.65 L125.74,208.21 L126.52,207.77 L127.29,207.32 L128.07,206.86 L128.85,206.40 L129.62,205.92 L130.40,205.44 L131.17,204.95 L131.95,204.45 L132.72,203.95 L133.50,203.43 L134.27,202.91 L135.05,202.38 L135.82,201.84 L136.60,201.29 L137.37,200.74 L138.15,200.18 L138.93,199.60 L139.70,199.02 L140.48,198.43 L141.25,197.83 L142.03,197.23 L142.80,196.61 L143.58,195.99 L144.35,195.35 L145.13,194.71 L145.90,194.06 L146.68,193.40 L147.45,192.73 L148.23,192.05 L149.01,191.36 L149.78,190.66 L150.56,189.95 L151.33,189.23 L152.11,188.50 L152.88,187.77 L153.66,187.02 L154.43,186.26 L155.21,185.49 L155.98,184.72 L156.76,183.93 L157.53,183.13 L158.31,182.32 L159.08,181.50 L159.86,180.67 L160.64,179.83 L161.41,178.98 L162.19,178.11 L162.96,177.24 L163.74,176.35 L164.51,175.46 L165.29,174.55 L166.06,173.63 L166.84,172.70 L167.61,171.75 L168.39,170.80 L169.16,169.83 L169.94,168.85 L170.72,167.86 L171.49,166.86 L172.27,165.84 L173.04,164.81 L173.82,163.77 L174.59,162.71 L175.37,161.65 L176.14,160.56 L176.92,159.47 L177.69,158.36 L178.47,157.24 L179.24,156.11 L180.02,154.96 L180.80,153.79 L181.57,152.62 L182.35,151.43 L183.12,150.22 L183.90,149.00 L184.67,147.76 L185.45,146.51 L186.22,145.25 L187.00,143.97 L187.77,142.67 L188.55,141.36 L189.32,140.04 L190.10,138.69" fill="none" stroke="#3333ff" stroke-width="0.95" />
<path d="M35.80,215.40 L36.58,216.12 L37.35,216.82 L38.13,217.50 L38.90,218.16 L39.68,218.80 L40.45,219.43 L41.23,220.03 L42.00,220.62 L42.78,221.19 L43.55,221.74 L44.33,222.27 L45.10,222.79 L45.88,223.29 L46.66,223.78 L47.43,224.25 L48.21,224.70 L48.98,225.13 L49.76,225.55 L50.53,225.96 L51.31,226.35 L52.08,226.73 L52.86,227.09 L53.63,227.43 L54.41,227.77 L55.18,228.08 L55.96,228.39 L56.74,228.68 L57.51,228.96 L58.29,229.22 L59.06,229.47 L59.84,229.71 L60.61,229.94 L61.39,230.15 L62.16,230.36 L62.94,230.55 L63.71,230.73 L64.49,230.89 L65.26,231.05 L66.04,231.19 L66.82,231.33 L67.59,231.45 L68.37,231.56 L69.14,231.66 L69.92,231.75 L70.69,231.83 L71.47,231.90 L72.24,231.96 L73.02,232.01 L73.79,232.05 L74.57,232.08 L75.34,232.11 L76.12,232.12 L76.89,232.12 L77.67,232.12 L78.45,232.10 L79.22,232.08 L80.00,232.05 L80.77,232.01 L81.55,231.96 L82.32,231.90 L83.10,231.83 L83.87,231.76 L84.65,231.68 L85.42,231.59 L86.20,231.49 L86.97,231.39 L87.75,231.27 L88.53,231.15 L89.30,231.02 L90.08,230.89 L90.85,230.74 L91.63,230.59 L92.40,230.44 L93.18,230.27 L93.95,230.10 L94.73,229.92 L95.50,229.73 L96.28,229.54 L97.05,229.34 L97.83,229.13 L98.61,228.92 L99.38,228.70 L100.16,228.47 L100.93,228.24 L101.71,228.00 L102.48,227.75 L103.26,227.49 L104.03,227.23 L104.81,226.97 L105.58,226.69 L106.36,226.41 L107.13,226.12 L107.91,225.83 L108.69,225.53 L109.46,225.22 L110.24,224.91 L111.01,224.59 L111.79,224.26 L112.56,223.92 L113.34,223.58 L114.11,223.24 L114.89,222.88 L115.66,222.52 L116.44,222.15 L117.21,221.78 L117.99,221.40 L118.77,221.01 L119.54,220.61 L120.32,220.21 L121.09,219.80 L121.87,219.38 L122.64,218.96 L123.42,218.53 L124.19,218.09 L124.97,217.64 L125.74,217.19 L126.52,216.73 L127.29,216.26 L128.07,215.78 L128.85,215.30 L129.62,214.80 L130.40,214.30 L131.17,213.80 L131.95,213.28 L132.72,212.76 L133.50,212.22 L134.27,211.68 L135.05,211.13 L135.82,210.57 L136.60,210.00 L137.37,209.43 L138.15,208.84 L138.93,208.25 L139.70,207.64 L140.48,207.03 L141.25,206.41 L142.03,205.77 L142.80,205.13 L143.58,204.48 L144.35,203.82 L145.13,203.14 L145.90,202.46 L146.68,201.76 L147.45,201.06 L148.23,200.34 L149.01,199.62 L149.78,198.88 L150.56,198.13 L151.33,197.37 L152.11,196.60 L152.88,195.81 L153.66,195.01 L154.43,194.20 L155.21,193.38 L155.98,192.55 L156.76,191.70 L157.53,190.84 L158.31,189.96 L159.08,189.08 L159.86,188.17 L160.64,187.26 L161.41,186.33 L162.19,185.38 L162.96,184.43 L163.74,183.45 L164.51,182.46 L165.29,181.46 L166.06,180.44 L166.84,179.40 L167.61,178.35 L168.39,177.29 L169.16,176.20 L169.94,175.10 L170.72,173.98 L171.49,172.85 L172.27,171.69 L173.04,170.52 L173.82,169.33 L174.59,168.13 L175.37,166.90 L176.14,165.66 L176.92,164.39 L177.69,163.11 L178.47,161.80 L179.24,160.48 L180.02,159.14 L180.80,157.77 L181.57,156.39 L182.35,154.98 L183.12,153.55 L183.90,152.10 L184.67,150.63 L185.45,149.13 L186.22,147.62 L187.00,146.08 L187.77,144.51 L188.55,142.92 L189.32,141.31 L190.10,139.67" fill="none" stroke="#ff33ff" stroke-width="0.95" />
<line x1="85.2" y1="182.3" x2="85.2" y2="238.5" stroke="#ff1a1a" stroke-width="1.1"/>
<line x1="116" y1="177.2" x2="116" y2="233.5" stroke="#333" stroke-width="1.1"/>
</g>
<text x="119.5" y="141.4" font-family="Liberation Serif, serif" font-size="11.3" fill="#050505" stroke="#050505" stroke-width="0.26" text-anchor="middle" >Wavelength resolution</text>
<text x="119.5" y="154.79999999999998" font-family="Liberation Serif, serif" font-size="11.3" fill="#050505" stroke="#050505" stroke-width="0.26" text-anchor="middle" >0.07 nm</text>
<line x1="149.8" y1="211.8" x2="160.70000000000002" y2="211.8" stroke="#333333" stroke-width="1.15"/>
<text x="162.10000000000002" y="213.60000000000002" font-family="Liberation Sans, sans-serif" font-size="4.95" fill="#404040" stroke="#404040" stroke-width="0.04" text-anchor="start" >0</text>
<line x1="149.8" y1="217.87" x2="160.70000000000002" y2="217.87" stroke="#ff2a2a" stroke-width="1.15"/>
<text x="162.10000000000002" y="219.67000000000002" font-family="Liberation Sans, sans-serif" font-size="4.95" fill="#404040" stroke="#404040" stroke-width="0.04" text-anchor="start" >0.000022</text>
<line x1="149.8" y1="223.94" x2="160.70000000000002" y2="223.94" stroke="#22ee22" stroke-width="1.15"/>
<text x="162.10000000000002" y="225.74" font-family="Liberation Sans, sans-serif" font-size="4.95" fill="#404040" stroke="#404040" stroke-width="0.04" text-anchor="start" >0.000044</text>
<line x1="149.8" y1="230.01000000000002" x2="160.70000000000002" y2="230.01000000000002" stroke="#3333ff" stroke-width="1.15"/>
<text x="162.10000000000002" y="231.81000000000003" font-family="Liberation Sans, sans-serif" font-size="4.95" fill="#404040" stroke="#404040" stroke-width="0.04" text-anchor="start" >0.000066</text>
<line x1="149.8" y1="236.08" x2="160.70000000000002" y2="236.08" stroke="#ff33ff" stroke-width="1.15"/>
<text x="162.10000000000002" y="237.88000000000002" font-family="Liberation Sans, sans-serif" font-size="4.95" fill="#404040" stroke="#404040" stroke-width="0.04" text-anchor="start" >0.000088</text>
<line x1="33.599999999999994" y1="149.2" x2="35.8" y2="149.2" stroke="#7a7a7a" stroke-width="1"/>
<text x="31.799999999999997" y="151.6" font-family="Liberation Sans, sans-serif" font-size="6.8" fill="#1e1e1e" stroke="#1e1e1e" stroke-width="0.2" text-anchor="end" >-14.0</text>
<line x1="33.599999999999994" y1="180.2" x2="35.8" y2="180.2" stroke="#7a7a7a" stroke-width="1"/>
<text x="31.799999999999997" y="182.6" font-family="Liberation Sans, sans-serif" font-size="6.8" fill="#1e1e1e" stroke="#1e1e1e" stroke-width="0.2" text-anchor="end" >-14.4</text>
<line x1="33.599999999999994" y1="210.8" x2="35.8" y2="210.8" stroke="#7a7a7a" stroke-width="1"/>
<text x="31.799999999999997" y="213.20000000000002" font-family="Liberation Sans, sans-serif" font-size="6.8" fill="#1e1e1e" stroke="#1e1e1e" stroke-width="0.2" text-anchor="end" >-14.8</text>
<line x1="33.599999999999994" y1="241.4" x2="35.8" y2="241.4" stroke="#7a7a7a" stroke-width="1"/>
<text x="31.799999999999997" y="243.8" font-family="Liberation Sans, sans-serif" font-size="6.8" fill="#1e1e1e" stroke="#1e1e1e" stroke-width="0.2" text-anchor="end" >-15.2</text>
<line x1="34.599999999999994" y1="164.7" x2="35.8" y2="164.7" stroke="#7a7a7a" stroke-width="0.8"/>
<line x1="34.599999999999994" y1="195.5" x2="35.8" y2="195.5" stroke="#7a7a7a" stroke-width="0.8"/>
<line x1="34.599999999999994" y1="226.1" x2="35.8" y2="226.1" stroke="#7a7a7a" stroke-width="0.8"/>
<line x1="45" y1="245.4" x2="45" y2="247.6" stroke="#7a7a7a" stroke-width="1"/>
<text x="45.3" y="255.3" font-family="Liberation Sans, sans-serif" font-size="6.8" fill="#1e1e1e" stroke="#1e1e1e" stroke-width="0.2" text-anchor="middle" >1552.64</text>
<line x1="83.4" y1="245.4" x2="83.4" y2="247.6" stroke="#7a7a7a" stroke-width="1"/>
<text x="83.7" y="255.3" font-family="Liberation Sans, sans-serif" font-size="6.8" fill="#1e1e1e" stroke="#1e1e1e" stroke-width="0.2" text-anchor="middle" >1552.68</text>
<line x1="122.8" y1="245.4" x2="122.8" y2="247.6" stroke="#7a7a7a" stroke-width="1"/>
<text x="123.1" y="255.3" font-family="Liberation Sans, sans-serif" font-size="6.8" fill="#1e1e1e" stroke="#1e1e1e" stroke-width="0.2" text-anchor="middle" >1552.72</text>
<line x1="160" y1="245.4" x2="160" y2="247.6" stroke="#7a7a7a" stroke-width="1"/>
<text x="160.3" y="255.3" font-family="Liberation Sans, sans-serif" font-size="6.8" fill="#1e1e1e" stroke="#1e1e1e" stroke-width="0.2" text-anchor="middle" >1552.76</text>
<line x1="64.2" y1="245.4" x2="64.2" y2="246.6" stroke="#7a7a7a" stroke-width="0.8"/>
<line x1="103.1" y1="245.4" x2="103.1" y2="246.6" stroke="#7a7a7a" stroke-width="0.8"/>
<line x1="141.4" y1="245.4" x2="141.4" y2="246.6" stroke="#7a7a7a" stroke-width="0.8"/>
<line x1="179.2" y1="245.4" x2="179.2" y2="246.6" stroke="#7a7a7a" stroke-width="0.8"/>
<text x="10.6" y="194.4" font-family="Liberation Sans, sans-serif" font-size="8.8" fill="#1e1e1e" stroke="#1e1e1e" stroke-width="0.3" text-anchor="middle" transform="rotate(-90 10.6 194.4)">Power (dBm)</text>
<rect x="36.5" y="258.9" width="154.4" height="115.30000000000001" fill="none" stroke="#7a7a7a" stroke-width="1.1"/>
<clipPath id="ca3"><rect x="36.5" y="258.9" width="154.4" height="115.30000000000001"/></clipPath>
<g clip-path="url(#ca3)">
<circle cx="52.7" cy="272.5" r="1.35" fill="#ee1111"/>
<circle cx="110.5" cy="345.8229619569728" r="1.35" fill="#ee1111"/>
<circle cx="110.5" cy="348.7890316121909" r="1.35" fill="#ee1111"/>
<circle cx="110.5" cy="352.0517082329309" r="1.35" fill="#ee1111"/>
<circle cx="110.5" cy="356.20420575023627" r="1.35" fill="#ee1111"/>
<circle cx="110.5" cy="360.65331023306345" r="1.35" fill="#ee1111"/>
<circle cx="168.2" cy="336.8882506390573" r="1.35" fill="#ee1111"/>
<circle cx="168.2" cy="339.3090039773223" r="1.35" fill="#ee1111"/>
<circle cx="168.2" cy="341.97183264941384" r="1.35" fill="#ee1111"/>
<circle cx="168.2" cy="345.36088732298487" r="1.35" fill="#ee1111"/>
<circle cx="168.2" cy="348.9920173303824" r="1.35" fill="#ee1111"/>
<path d="M45.00,255.01 L45.93,256.97 L46.85,258.94 L47.78,260.90 L48.71,262.84 L49.64,264.76 L50.56,266.66 L51.49,268.54 L52.42,270.40 L53.34,272.24 L54.27,274.06 L55.20,275.86 L56.12,277.64 L57.05,279.40 L57.98,281.14 L58.91,282.85 L59.83,284.55 L60.76,286.23 L61.69,287.89 L62.61,289.52 L63.54,291.14 L64.47,292.74 L65.39,294.31 L66.32,295.87 L67.25,297.40 L68.18,298.92 L69.10,300.41 L70.03,301.88 L70.96,303.34 L71.88,304.77 L72.81,306.18 L73.74,307.57 L74.67,308.94 L75.59,310.29 L76.52,311.62 L77.45,312.93 L78.37,314.21 L79.30,315.48 L80.23,316.73 L81.15,317.95 L82.08,319.16 L83.01,320.34 L83.94,321.50 L84.86,322.64 L85.79,323.76 L86.72,324.86 L87.64,325.94 L88.57,327.00 L89.50,328.03 L90.43,329.05 L91.35,330.04 L92.28,331.02 L93.21,331.97 L94.13,332.90 L95.06,333.81 L95.99,334.70 L96.91,335.56 L97.84,336.41 L98.77,337.23 L99.70,338.04 L100.62,338.82 L101.55,339.58 L102.48,340.32 L103.40,341.04 L104.33,341.73 L105.26,342.41 L106.18,343.06 L107.11,343.70 L108.04,344.31 L108.97,344.90 L109.89,345.46 L110.82,346.01 L111.75,346.53 L112.67,347.04 L113.60,347.52 L114.53,347.98 L115.46,348.42 L116.38,348.83 L117.31,349.23 L118.24,349.60 L119.16,349.95 L120.09,350.28 L121.02,350.59 L121.94,350.87 L122.87,351.14 L123.80,351.38 L124.73,351.60 L125.65,351.80 L126.58,351.97 L127.51,352.13 L128.43,352.26 L129.36,352.37 L130.29,352.46 L131.22,352.52 L132.14,352.57 L133.07,352.59 L134.00,352.59 L134.92,352.56 L135.85,352.52 L136.78,352.45 L137.70,352.36 L138.63,352.25 L139.56,352.12 L140.49,351.96 L141.41,351.78 L142.34,351.58 L143.27,351.36 L144.19,351.11 L145.12,350.85 L146.05,350.56 L146.97,350.24 L147.90,349.91 L148.83,349.55 L149.76,349.17 L150.68,348.77 L151.61,348.34 L152.54,347.89 L153.46,347.42 L154.39,346.93 L155.32,346.41 L156.25,345.88 L157.17,345.31 L158.10,344.73 L159.03,344.12 L159.95,343.49 L160.88,342.84 L161.81,342.17 L162.73,341.47 L163.66,340.75 L164.59,340.00 L165.52,339.24 L166.44,338.45 L167.37,337.64 L168.30,336.80 L169.22,335.94 L170.15,335.06 L171.08,334.15 L172.01,333.23 L172.93,332.28 L173.86,331.30 L174.79,330.31 L175.71,329.29 L176.64,328.24 L177.57,327.17 L178.49,326.08 L179.42,324.97 L180.35,323.84 L181.28,322.68 L182.20,321.49 L183.13,320.29 L184.06,319.06 L184.98,317.80 L185.91,316.53 L186.84,315.23 L187.76,313.90 L188.69,312.56 L189.62,311.19 L190.55,309.79 L191.47,308.38 L192.40,306.96" fill="none" stroke="#333333" stroke-width="0.95" />
<path d="M45.00,255.06 L45.93,257.07 L46.85,259.09 L47.78,261.09 L48.71,263.07 L49.64,265.04 L50.56,266.98 L51.49,268.90 L52.42,270.80 L53.34,272.68 L54.27,274.54 L55.20,276.38 L56.12,278.20 L57.05,279.99 L57.98,281.76 L58.91,283.51 L59.83,285.24 L60.76,286.95 L61.69,288.63 L62.61,290.30 L63.54,291.95 L64.47,293.57 L65.39,295.18 L66.32,296.77 L67.25,298.33 L68.18,299.88 L69.10,301.42 L70.03,302.93 L70.96,304.42 L71.88,305.90 L72.81,307.37 L73.74,308.81 L74.67,310.24 L75.59,311.66 L76.52,313.06 L77.45,314.44 L78.37,315.81 L79.30,317.16 L80.23,318.50 L81.15,319.82 L82.08,321.12 L83.01,322.40 L83.94,323.65 L84.86,324.89 L85.79,326.10 L86.72,327.28 L87.64,328.45 L88.57,329.58 L89.50,330.68 L90.43,331.76 L91.35,332.81 L92.28,333.83 L93.21,334.82 L94.13,335.79 L95.06,336.73 L95.99,337.64 L96.91,338.53 L97.84,339.39 L98.77,340.23 L99.70,341.04 L100.62,341.83 L101.55,342.59 L102.48,343.33 L103.40,344.04 L104.33,344.74 L105.26,345.41 L106.18,346.05 L107.11,346.68 L108.04,347.28 L108.97,347.87 L109.89,348.43 L110.82,348.97 L111.75,349.50 L112.67,350.00 L113.60,350.48 L114.53,350.94 L115.46,351.39 L116.38,351.81 L117.31,352.21 L118.24,352.59 L119.16,352.95 L120.09,353.29 L121.02,353.60 L121.94,353.90 L122.87,354.17 L123.80,354.43 L124.73,354.66 L125.65,354.87 L126.58,355.05 L127.51,355.22 L128.43,355.36 L129.36,355.49 L130.29,355.59 L131.22,355.66 L132.14,355.72 L133.07,355.75 L134.00,355.76 L134.92,355.75 L135.85,355.71 L136.78,355.65 L137.70,355.57 L138.63,355.46 L139.56,355.33 L140.49,355.18 L141.41,355.00 L142.34,354.80 L143.27,354.58 L144.19,354.33 L145.12,354.06 L146.05,353.76 L146.97,353.44 L147.90,353.10 L148.83,352.73 L149.76,352.34 L150.68,351.92 L151.61,351.47 L152.54,351.01 L153.46,350.51 L154.39,349.99 L155.32,349.45 L156.25,348.88 L157.17,348.29 L158.10,347.67 L159.03,347.02 L159.95,346.36 L160.88,345.66 L161.81,344.94 L162.73,344.20 L163.66,343.43 L164.59,342.64 L165.52,341.82 L166.44,340.98 L167.37,340.11 L168.30,339.21 L169.22,338.30 L170.15,337.35 L171.08,336.39 L172.01,335.40 L172.93,334.38 L173.86,333.34 L174.79,332.27 L175.71,331.18 L176.64,330.07 L177.57,328.93 L178.49,327.77 L179.42,326.59 L180.35,325.40 L181.28,324.19 L182.20,322.98 L183.13,321.75 L184.06,320.51 L184.98,319.27 L185.91,318.03 L186.84,316.79 L187.76,315.55 L188.69,314.31 L189.62,313.08 L190.55,311.86 L191.47,310.64 L192.40,309.43" fill="none" stroke="#ff2a2a" stroke-width="0.95" />
<path d="M45.00,255.12 L45.93,257.19 L46.85,259.25 L47.78,261.30 L48.71,263.33 L49.64,265.34 L50.56,267.33 L51.49,269.30 L52.42,271.25 L53.34,273.17 L54.27,275.08 L55.20,276.96 L56.12,278.81 L57.05,280.64 L57.98,282.45 L58.91,284.24 L59.83,286.00 L60.76,287.74 L61.69,289.46 L62.61,291.16 L63.54,292.83 L64.47,294.49 L65.39,296.13 L66.32,297.75 L67.25,299.36 L68.18,300.95 L69.10,302.52 L70.03,304.08 L70.96,305.62 L71.88,307.15 L72.81,308.67 L73.74,310.18 L74.67,311.67 L75.59,313.16 L76.52,314.64 L77.45,316.10 L78.37,317.56 L79.30,319.01 L80.23,320.45 L81.15,321.87 L82.08,323.28 L83.01,324.66 L83.94,326.02 L84.86,327.36 L85.79,328.67 L86.72,329.95 L87.64,331.20 L88.57,332.42 L89.50,333.60 L90.43,334.75 L91.35,335.86 L92.28,336.93 L93.21,337.97 L94.13,338.97 L95.06,339.94 L95.99,340.88 L96.91,341.79 L97.84,342.67 L98.77,343.52 L99.70,344.34 L100.62,345.13 L101.55,345.90 L102.48,346.64 L103.40,347.35 L104.33,348.04 L105.26,348.70 L106.18,349.34 L107.11,349.96 L108.04,350.56 L108.97,351.14 L109.89,351.70 L110.82,352.24 L111.75,352.76 L112.67,353.26 L113.60,353.74 L114.53,354.21 L115.46,354.65 L116.38,355.08 L117.31,355.49 L118.24,355.88 L119.16,356.24 L120.09,356.59 L121.02,356.92 L121.94,357.23 L122.87,357.51 L123.80,357.78 L124.73,358.02 L125.65,358.24 L126.58,358.44 L127.51,358.62 L128.43,358.78 L129.36,358.92 L130.29,359.03 L131.22,359.12 L132.14,359.18 L133.07,359.23 L134.00,359.25 L134.92,359.24 L135.85,359.22 L136.78,359.17 L137.70,359.09 L138.63,358.99 L139.56,358.87 L140.49,358.72 L141.41,358.54 L142.34,358.35 L143.27,358.12 L144.19,357.87 L145.12,357.59 L146.05,357.29 L146.97,356.96 L147.90,356.61 L148.83,356.23 L149.76,355.82 L150.68,355.38 L151.61,354.92 L152.54,354.43 L153.46,353.91 L154.39,353.36 L155.32,352.79 L156.25,352.19 L157.17,351.56 L158.10,350.90 L159.03,350.21 L159.95,349.50 L160.88,348.76 L161.81,348.00 L162.73,347.20 L163.66,346.38 L164.59,345.53 L165.52,344.66 L166.44,343.76 L167.37,342.83 L168.30,341.87 L169.22,340.89 L170.15,339.88 L171.08,338.84 L172.01,337.78 L172.93,336.69 L173.86,335.58 L174.79,334.44 L175.71,333.27 L176.64,332.08 L177.57,330.86 L178.49,329.63 L179.42,328.38 L180.35,327.12 L181.28,325.86 L182.20,324.61 L183.13,323.36 L184.06,322.11 L184.98,320.89 L185.91,319.68 L186.84,318.50 L187.76,317.35 L188.69,316.24 L189.62,315.16 L190.55,314.13 L191.47,313.14 L192.40,312.15" fill="none" stroke="#22ee22" stroke-width="0.95" />
<path d="M45.00,255.20 L45.93,257.33 L46.85,259.45 L47.78,261.56 L48.71,263.65 L49.64,265.73 L50.56,267.78 L51.49,269.81 L52.42,271.81 L53.34,273.80 L54.27,275.76 L55.20,277.69 L56.12,279.59 L57.05,281.47 L57.98,283.33 L58.91,285.16 L59.83,286.96 L60.76,288.74 L61.69,290.50 L62.61,292.24 L63.54,293.96 L64.47,295.66 L65.39,297.35 L66.32,299.01 L67.25,300.66 L68.18,302.30 L69.10,303.93 L70.03,305.54 L70.96,307.14 L71.88,308.74 L72.81,310.33 L73.74,311.91 L74.67,313.49 L75.59,315.07 L76.52,316.65 L77.45,318.22 L78.37,319.80 L79.30,321.37 L80.23,322.93 L81.15,324.49 L82.08,326.02 L83.01,327.54 L83.94,329.03 L84.86,330.50 L85.79,331.94 L86.72,333.34 L87.64,334.71 L88.57,336.03 L89.50,337.31 L90.43,338.54 L91.35,339.73 L92.28,340.87 L93.21,341.97 L94.13,343.02 L95.06,344.04 L95.99,345.01 L96.91,345.95 L97.84,346.85 L98.77,347.71 L99.70,348.54 L100.62,349.34 L101.55,350.11 L102.48,350.85 L103.40,351.56 L104.33,352.24 L105.26,352.90 L106.18,353.53 L107.11,354.14 L108.04,354.73 L108.97,355.30 L109.89,355.85 L110.82,356.39 L111.75,356.91 L112.67,357.41 L113.60,357.89 L114.53,358.36 L115.46,358.81 L116.38,359.25 L117.31,359.66 L118.24,360.06 L119.16,360.44 L120.09,360.80 L121.02,361.14 L121.94,361.46 L122.87,361.76 L123.80,362.04 L124.73,362.30 L125.65,362.54 L126.58,362.76 L127.51,362.96 L128.43,363.13 L129.36,363.28 L130.29,363.41 L131.22,363.51 L132.14,363.60 L133.07,363.65 L134.00,363.69 L134.92,363.70 L135.85,363.68 L136.78,363.64 L137.70,363.58 L138.63,363.49 L139.56,363.37 L140.49,363.22 L141.41,363.05 L142.34,362.85 L143.27,362.63 L144.19,362.37 L145.12,362.09 L146.05,361.78 L146.97,361.44 L147.90,361.08 L148.83,360.68 L149.76,360.25 L150.68,359.79 L151.61,359.30 L152.54,358.78 L153.46,358.23 L154.39,357.65 L155.32,357.04 L156.25,356.39 L157.17,355.72 L158.10,355.01 L159.03,354.28 L159.95,353.51 L160.88,352.71 L161.81,351.88 L162.73,351.02 L163.66,350.14 L164.59,349.22 L165.52,348.27 L166.44,347.29 L167.37,346.29 L168.30,345.25 L169.22,344.19 L170.15,343.09 L171.08,341.97 L172.01,340.82 L172.93,339.64 L173.86,338.43 L174.79,337.19 L175.71,335.93 L176.64,334.63 L177.57,333.32 L178.49,331.99 L179.42,330.65 L180.35,329.32 L181.28,327.99 L182.20,326.68 L183.13,325.40 L184.06,324.15 L184.98,322.95 L185.91,321.79 L186.84,320.69 L187.76,319.65 L188.69,318.69 L189.62,317.81 L190.55,317.02 L191.47,316.31 L192.40,315.61" fill="none" stroke="#3333ff" stroke-width="0.95" />
<path d="M45.00,255.29 L45.93,257.48 L46.85,259.67 L47.78,261.85 L48.71,264.00 L49.64,266.14 L50.56,268.26 L51.49,270.35 L52.42,272.42 L53.34,274.46 L54.27,276.48 L55.20,278.47 L56.12,280.43 L57.05,282.36 L57.98,284.27 L58.91,286.14 L59.83,287.99 L60.76,289.82 L61.69,291.62 L62.61,293.41 L63.54,295.17 L64.47,296.92 L65.39,298.65 L66.32,300.36 L67.25,302.06 L68.18,303.75 L69.10,305.43 L70.03,307.11 L70.96,308.78 L71.88,310.44 L72.81,312.11 L73.74,313.77 L74.67,315.44 L75.59,317.12 L76.52,318.80 L77.45,320.49 L78.37,322.19 L79.30,323.89 L80.23,325.59 L81.15,327.29 L82.08,328.96 L83.01,330.62 L83.94,332.26 L84.86,333.87 L85.79,335.44 L86.72,336.98 L87.64,338.47 L88.57,339.91 L89.50,341.29 L90.43,342.61 L91.35,343.88 L92.28,345.09 L93.21,346.25 L94.13,347.36 L95.06,348.42 L95.99,349.43 L96.91,350.40 L97.84,351.32 L98.77,352.20 L99.70,353.04 L100.62,353.85 L101.55,354.62 L102.48,355.36 L103.40,356.06 L104.33,356.74 L105.26,357.39 L106.18,358.01 L107.11,358.62 L108.04,359.20 L108.97,359.76 L109.89,360.30 L110.82,360.83 L111.75,361.35 L112.67,361.85 L113.60,362.34 L114.53,362.81 L115.46,363.27 L116.38,363.71 L117.31,364.14 L118.24,364.55 L119.16,364.94 L120.09,365.31 L121.02,365.67 L121.94,366.00 L122.87,366.32 L123.80,366.62 L124.73,366.89 L125.65,367.15 L126.58,367.38 L127.51,367.60 L128.43,367.79 L129.36,367.96 L130.29,368.10 L131.22,368.23 L132.14,368.32 L133.07,368.40 L134.00,368.45 L134.92,368.47 L135.85,368.47 L136.78,368.44 L137.70,368.38 L138.63,368.30 L139.56,368.19 L140.49,368.05 L141.41,367.88 L142.34,367.68 L143.27,367.46 L144.19,367.20 L145.12,366.91 L146.05,366.59 L146.97,366.24 L147.90,365.86 L148.83,365.45 L149.76,365.00 L150.68,364.52 L151.61,364.00 L152.54,363.45 L153.46,362.87 L154.39,362.25 L155.32,361.59 L156.25,360.90 L157.17,360.18 L158.10,359.42 L159.03,358.63 L159.95,357.80 L160.88,356.94 L161.81,356.05 L162.73,355.12 L163.66,354.16 L164.59,353.17 L165.52,352.14 L166.44,351.08 L167.37,350.00 L168.30,348.87 L169.22,347.72 L170.15,346.53 L171.08,345.32 L172.01,344.07 L172.93,342.79 L173.86,341.48 L174.79,340.14 L175.71,338.77 L176.64,337.37 L177.57,335.95 L178.49,334.52 L179.42,333.09 L180.35,331.67 L181.28,330.27 L182.20,328.91 L183.13,327.59 L184.06,326.34 L184.98,325.15 L185.91,324.04 L186.84,323.03 L187.76,322.12 L188.69,321.32 L189.62,320.65 L190.55,320.12 L191.47,319.71 L192.40,319.31" fill="none" stroke="#ff33ff" stroke-width="0.95" />
<line x1="133.1" y1="349.3" x2="133.1" y2="372.2" stroke="#ff1a1a" stroke-width="1.1"/>
<line x1="110.5" y1="343.4" x2="110.5" y2="366.2" stroke="#222" stroke-width="1.1"/>
<line x1="52.6" y1="269.8" x2="52.6" y2="275.6" stroke="#ff1a1a" stroke-width="1.1"/>
</g>
<text x="122.7" y="270.8" font-family="Liberation Serif, serif" font-size="11.3" fill="#050505" stroke="#050505" stroke-width="0.26" text-anchor="middle" >Wavelength resolution</text>
<text x="122.7" y="284.2" font-family="Liberation Serif, serif" font-size="11.3" fill="#050505" stroke="#050505" stroke-width="0.26" text-anchor="middle" >0.14 nm</text>
<line x1="39.9" y1="342.9" x2="50.8" y2="342.9" stroke="#333333" stroke-width="1.15"/>
<text x="52.2" y="344.7" font-family="Liberation Sans, sans-serif" font-size="4.95" fill="#404040" stroke="#404040" stroke-width="0.04" text-anchor="start" >0</text>
<line x1="39.9" y1="348.98999999999995" x2="50.8" y2="348.98999999999995" stroke="#ff2a2a" stroke-width="1.15"/>
<text x="52.2" y="350.78999999999996" font-family="Liberation Sans, sans-serif" font-size="4.95" fill="#404040" stroke="#404040" stroke-width="0.04" text-anchor="start" >0.000022</text>
<line x1="39.9" y1="355.08" x2="50.8" y2="355.08" stroke="#22ee22" stroke-width="1.15"/>
<text x="52.2" y="356.88" font-family="Liberation Sans, sans-serif" font-size="4.95" fill="#404040" stroke="#404040" stroke-width="0.04" text-anchor="start" >0.000044</text>
<line x1="39.9" y1="361.16999999999996" x2="50.8" y2="361.16999999999996" stroke="#3333ff" stroke-width="1.15"/>
<text x="52.2" y="362.96999999999997" font-family="Liberation Sans, sans-serif" font-size="4.95" fill="#404040" stroke="#404040" stroke-width="0.04" text-anchor="start" >0.000066</text>
<line x1="39.9" y1="367.26" x2="50.8" y2="367.26" stroke="#ff33ff" stroke-width="1.15"/>
<text x="52.2" y="369.06" font-family="Liberation Sans, sans-serif" font-size="4.95" fill="#404040" stroke="#404040" stroke-width="0.04" text-anchor="start" >0.000088</text>
<line x1="34.3" y1="273.9" x2="36.5" y2="273.9" stroke="#7a7a7a" stroke-width="1"/>
<text x="32.5" y="276.29999999999995" font-family="Liberation Sans, sans-serif" font-size="6.8" fill="#1e1e1e" stroke="#1e1e1e" stroke-width="0.2" text-anchor="end" >-12</text>
<line x1="34.3" y1="304.6" x2="36.5" y2="304.6" stroke="#7a7a7a" stroke-width="1"/>
<text x="32.5" y="307.0" font-family="Liberation Sans, sans-serif" font-size="6.8" fill="#1e1e1e" stroke="#1e1e1e" stroke-width="0.2" text-anchor="end" >-13</text>
<line x1="34.3" y1="335.4" x2="36.5" y2="335.4" stroke="#7a7a7a" stroke-width="1"/>
<text x="32.5" y="337.79999999999995" font-family="Liberation Sans, sans-serif" font-size="6.8" fill="#1e1e1e" stroke="#1e1e1e" stroke-width="0.2" text-anchor="end" >-14</text>
<line x1="34.3" y1="366.1" x2="36.5" y2="366.1" stroke="#7a7a7a" stroke-width="1"/>
<text x="32.5" y="368.5" font-family="Liberation Sans, sans-serif" font-size="6.8" fill="#1e1e1e" stroke="#1e1e1e" stroke-width="0.2" text-anchor="end" >-15</text>
<line x1="35.3" y1="289.2" x2="36.5" y2="289.2" stroke="#7a7a7a" stroke-width="0.8"/>
<line x1="35.3" y1="320" x2="36.5" y2="320" stroke="#7a7a7a" stroke-width="0.8"/>
<line x1="35.3" y1="350.7" x2="36.5" y2="350.7" stroke="#7a7a7a" stroke-width="0.8"/>
<line x1="57.1" y1="374.2" x2="57.1" y2="376.4" stroke="#7a7a7a" stroke-width="1"/>
<text x="57.4" y="384.09999999999997" font-family="Liberation Sans, sans-serif" font-size="6.8" fill="#1e1e1e" stroke="#1e1e1e" stroke-width="0.2" text-anchor="middle" >1552.5</text>
<line x1="98.2" y1="374.2" x2="98.2" y2="376.4" stroke="#7a7a7a" stroke-width="1"/>
<text x="98.5" y="384.09999999999997" font-family="Liberation Sans, sans-serif" font-size="6.8" fill="#1e1e1e" stroke="#1e1e1e" stroke-width="0.2" text-anchor="middle" >1552.6</text>
<line x1="139.3" y1="374.2" x2="139.3" y2="376.4" stroke="#7a7a7a" stroke-width="1"/>
<text x="139.60000000000002" y="384.09999999999997" font-family="Liberation Sans, sans-serif" font-size="6.8" fill="#1e1e1e" stroke="#1e1e1e" stroke-width="0.2" text-anchor="middle" >1552.7</text>
<line x1="180.4" y1="374.2" x2="180.4" y2="376.4" stroke="#7a7a7a" stroke-width="1"/>
<text x="180.70000000000002" y="384.09999999999997" font-family="Liberation Sans, sans-serif" font-size="6.8" fill="#1e1e1e" stroke="#1e1e1e" stroke-width="0.2" text-anchor="middle" >1552.8</text>
<line x1="77.6" y1="374.2" x2="77.6" y2="375.4" stroke="#7a7a7a" stroke-width="0.8"/>
<line x1="118.7" y1="374.2" x2="118.7" y2="375.4" stroke="#7a7a7a" stroke-width="0.8"/>
<line x1="159.8" y1="374.2" x2="159.8" y2="375.4" stroke="#7a7a7a" stroke-width="0.8"/>
<text x="16.9" y="322" font-family="Liberation Sans, sans-serif" font-size="8.8" fill="#1e1e1e" stroke="#1e1e1e" stroke-width="0.3" text-anchor="middle" transform="rotate(-90 16.9 322)">Power (dBm)</text>
<rect x="35.5" y="387.7" width="155.0" height="115.0" fill="none" stroke="#7a7a7a" stroke-width="1.1"/>
<clipPath id="ca4"><rect x="35.5" y="387.7" width="155.0" height="115.0"/></clipPath>
<g clip-path="url(#ca4)">
<circle cx="51.6" cy="417.5" r="1.35" fill="#ee1111"/>
<circle cx="175.2" cy="401.8" r="1.35" fill="#ee1111"/>
<circle cx="113.3" cy="484.368244414332" r="1.35" fill="#ee1111"/>
<circle cx="113.3" cy="486.1123634346413" r="1.35" fill="#ee1111"/>
<circle cx="113.3" cy="488.03089435698143" r="1.35" fill="#ee1111"/>
<circle cx="113.3" cy="490.4726609854144" r="1.35" fill="#ee1111"/>
<circle cx="113.3" cy="493.08883951587825" r="1.35" fill="#ee1111"/>
<path d="M38.20,379.33 L39.10,381.93 L40.01,384.53 L40.91,387.14 L41.81,389.73 L42.72,392.29 L43.62,394.81 L44.52,397.30 L45.43,399.75 L46.33,402.16 L47.23,404.53 L48.13,406.87 L49.04,409.17 L49.94,411.43 L50.84,413.66 L51.75,415.85 L52.65,418.00 L53.55,420.12 L54.46,422.20 L55.36,424.25 L56.26,426.26 L57.17,428.23 L58.07,430.17 L58.97,432.07 L59.88,433.94 L60.78,435.77 L61.68,437.57 L62.58,439.33 L63.49,441.05 L64.39,442.74 L65.29,444.40 L66.20,446.02 L67.10,447.60 L68.00,449.16 L68.91,450.67 L69.81,452.15 L70.71,453.60 L71.62,455.01 L72.52,456.39 L73.42,457.73 L74.33,459.04 L75.23,460.32 L76.13,461.56 L77.04,462.77 L77.94,463.94 L78.84,465.08 L79.74,466.19 L80.65,467.26 L81.55,468.30 L82.45,469.31 L83.36,470.28 L84.26,471.22 L85.16,472.13 L86.07,473.00 L86.97,473.85 L87.87,474.66 L88.78,475.43 L89.68,476.17 L90.58,476.89 L91.49,477.56 L92.39,478.21 L93.29,478.83 L94.19,479.41 L95.10,479.96 L96.00,480.48 L96.90,480.96 L97.81,481.42 L98.71,481.84 L99.61,482.23 L100.52,482.59 L101.42,482.92 L102.32,483.22 L103.23,483.48 L104.13,483.72 L105.03,483.92 L105.94,484.10 L106.84,484.24 L107.74,484.35 L108.65,484.43 L109.55,484.48 L110.45,484.50 L111.35,484.49 L112.26,484.45 L113.16,484.38 L114.06,484.28 L114.97,484.15 L115.87,483.99 L116.77,483.80 L117.68,483.58 L118.58,483.33 L119.48,483.04 L120.39,482.73 L121.29,482.39 L122.19,482.02 L123.10,481.61 L124.00,481.18 L124.90,480.71 L125.81,480.22 L126.71,479.69 L127.61,479.14 L128.51,478.55 L129.42,477.93 L130.32,477.28 L131.22,476.60 L132.13,475.89 L133.03,475.15 L133.93,474.37 L134.84,473.57 L135.74,472.73 L136.64,471.86 L137.55,470.97 L138.45,470.03 L139.35,469.06 L140.26,468.06 L141.16,467.02 L142.06,465.94 L142.96,464.81 L143.87,463.65 L144.77,462.44 L145.67,461.19 L146.58,459.89 L147.48,458.54 L148.38,457.14 L149.29,455.69 L150.19,454.19 L151.09,452.64 L152.00,451.03 L152.90,449.37 L153.80,447.66 L154.71,445.91 L155.61,444.10 L156.51,442.25 L157.42,440.36 L158.32,438.42 L159.22,436.45 L160.12,434.44 L161.03,432.40 L161.93,430.33 L162.83,428.22 L163.74,426.08 L164.64,423.92 L165.54,421.74 L166.45,419.53 L167.35,417.30 L168.25,415.05 L169.16,412.79 L170.06,410.51 L170.96,408.21 L171.87,405.91 L172.77,403.60 L173.67,401.28 L174.57,398.96 L175.48,396.63 L176.38,394.31 L177.28,391.98 L178.19,389.66 L179.09,387.35 L179.99,385.03 L180.90,382.72 L181.80,380.41" fill="none" stroke="#333333" stroke-width="0.95" />
<path d="M38.20,380.22 L39.10,382.80 L40.01,385.37 L40.91,387.95 L41.81,390.51 L42.72,393.05 L43.62,395.55 L44.52,398.02 L45.43,400.45 L46.33,402.86 L47.23,405.23 L48.13,407.56 L49.04,409.86 L49.94,412.13 L50.84,414.37 L51.75,416.57 L52.65,418.74 L53.55,420.87 L54.46,422.97 L55.36,425.04 L56.26,427.07 L57.17,429.07 L58.07,431.04 L58.97,432.97 L59.88,434.86 L60.78,436.72 L61.68,438.55 L62.58,440.34 L63.49,442.10 L64.39,443.82 L65.29,445.50 L66.20,447.16 L67.10,448.77 L68.00,450.35 L68.91,451.90 L69.81,453.41 L70.71,454.88 L71.62,456.32 L72.52,457.73 L73.42,459.09 L74.33,460.42 L75.23,461.72 L76.13,462.98 L77.04,464.20 L77.94,465.39 L78.84,466.54 L79.74,467.66 L80.65,468.74 L81.55,469.79 L82.45,470.80 L83.36,471.78 L84.26,472.72 L85.16,473.63 L86.07,474.51 L86.97,475.35 L87.87,476.16 L88.78,476.94 L89.68,477.69 L90.58,478.41 L91.49,479.09 L92.39,479.74 L93.29,480.36 L94.19,480.95 L95.10,481.51 L96.00,482.04 L96.90,482.54 L97.81,483.00 L98.71,483.43 L99.61,483.83 L100.52,484.21 L101.42,484.55 L102.32,484.85 L103.23,485.13 L104.13,485.38 L105.03,485.59 L105.94,485.77 L106.84,485.93 L107.74,486.05 L108.65,486.14 L109.55,486.20 L110.45,486.23 L111.35,486.22 L112.26,486.19 L113.16,486.13 L114.06,486.03 L114.97,485.90 L115.87,485.74 L116.77,485.55 L117.68,485.33 L118.58,485.08 L119.48,484.80 L120.39,484.48 L121.29,484.14 L122.19,483.76 L123.10,483.35 L124.00,482.90 L124.90,482.43 L125.81,481.92 L126.71,481.38 L127.61,480.81 L128.51,480.21 L129.42,479.58 L130.32,478.91 L131.22,478.21 L132.13,477.48 L133.03,476.72 L133.93,475.92 L134.84,475.09 L135.74,474.23 L136.64,473.34 L137.55,472.41 L138.45,471.45 L139.35,470.45 L140.26,469.42 L141.16,468.34 L142.06,467.23 L142.96,466.08 L143.87,464.89 L144.77,463.66 L145.67,462.38 L146.58,461.06 L147.48,459.69 L148.38,458.27 L149.29,456.81 L150.19,455.29 L151.09,453.73 L152.00,452.12 L152.90,450.45 L153.80,448.74 L154.71,446.98 L155.61,445.18 L156.51,443.33 L157.42,441.44 L158.32,439.52 L159.22,437.55 L160.12,435.54 L161.03,433.51 L161.93,431.43 L162.83,429.33 L163.74,427.19 L164.64,425.03 L165.54,422.84 L166.45,420.62 L167.35,418.38 L168.25,416.12 L169.16,413.84 L170.06,411.54 L170.96,409.23 L171.87,406.91 L172.77,404.57 L173.67,402.22 L174.57,399.87 L175.48,397.51 L176.38,395.15 L177.28,392.78 L178.19,390.42 L179.09,388.06 L179.99,385.70 L180.90,383.34 L181.80,380.98" fill="none" stroke="#ff2a2a" stroke-width="0.95" />
<path d="M38.20,381.20 L39.10,383.75 L40.01,386.30 L40.91,388.84 L41.81,391.37 L42.72,393.88 L43.62,396.36 L44.52,398.81 L45.43,401.23 L46.33,403.63 L47.23,405.99 L48.13,408.32 L49.04,410.63 L49.94,412.91 L50.84,415.15 L51.75,417.37 L52.65,419.55 L53.55,421.70 L54.46,423.82 L55.36,425.91 L56.26,427.97 L57.17,429.99 L58.07,431.99 L58.97,433.95 L59.88,435.87 L60.78,437.77 L61.68,439.63 L62.58,441.45 L63.49,443.24 L64.39,445.00 L65.29,446.72 L66.20,448.41 L67.10,450.06 L68.00,451.67 L68.91,453.25 L69.81,454.79 L70.71,456.30 L71.62,457.76 L72.52,459.20 L73.42,460.59 L74.33,461.94 L75.23,463.26 L76.13,464.54 L77.04,465.78 L77.94,466.98 L78.84,468.15 L79.74,469.27 L80.65,470.36 L81.55,471.42 L82.45,472.44 L83.36,473.42 L84.26,474.37 L85.16,475.28 L86.07,476.16 L86.97,477.01 L87.87,477.83 L88.78,478.61 L89.68,479.36 L90.58,480.08 L91.49,480.77 L92.39,481.43 L93.29,482.06 L94.19,482.66 L95.10,483.22 L96.00,483.76 L96.90,484.27 L97.81,484.74 L98.71,485.19 L99.61,485.60 L100.52,485.98 L101.42,486.33 L102.32,486.65 L103.23,486.94 L104.13,487.20 L105.03,487.43 L105.94,487.62 L106.84,487.78 L107.74,487.92 L108.65,488.02 L109.55,488.09 L110.45,488.12 L111.35,488.13 L112.26,488.10 L113.16,488.04 L114.06,487.95 L114.97,487.83 L115.87,487.67 L116.77,487.49 L117.68,487.27 L118.58,487.01 L119.48,486.73 L120.39,486.41 L121.29,486.06 L122.19,485.67 L123.10,485.25 L124.00,484.80 L124.90,484.32 L125.81,483.80 L126.71,483.25 L127.61,482.66 L128.51,482.04 L129.42,481.39 L130.32,480.70 L131.22,479.98 L132.13,479.23 L133.03,478.44 L133.93,477.62 L134.84,476.77 L135.74,475.88 L136.64,474.95 L137.55,474.00 L138.45,473.00 L139.35,471.97 L140.26,470.91 L141.16,469.80 L142.06,468.66 L142.96,467.48 L143.87,466.26 L144.77,464.99 L145.67,463.69 L146.58,462.34 L147.48,460.95 L148.38,459.51 L149.29,458.03 L150.19,456.50 L151.09,454.93 L152.00,453.31 L152.90,451.64 L153.80,449.92 L154.71,448.17 L155.61,446.37 L156.51,444.52 L157.42,442.64 L158.32,440.72 L159.22,438.75 L160.12,436.76 L161.03,434.72 L161.93,432.65 L162.83,430.55 L163.74,428.41 L164.64,426.24 L165.54,424.05 L166.45,421.82 L167.35,419.57 L168.25,417.30 L169.16,415.00 L170.06,412.68 L170.96,410.35 L171.87,408.00 L172.77,405.63 L173.67,403.26 L174.57,400.87 L175.48,398.48 L176.38,396.07 L177.28,393.67 L178.19,391.26 L179.09,388.85 L179.99,386.43 L180.90,384.02 L181.80,381.60" fill="none" stroke="#22ee22" stroke-width="0.95" />
<path d="M38.20,382.45 L39.10,384.96 L40.01,387.47 L40.91,389.98 L41.81,392.47 L42.72,394.94 L43.62,397.39 L44.52,399.82 L45.43,402.22 L46.33,404.60 L47.23,406.96 L48.13,409.30 L49.04,411.60 L49.94,413.89 L50.84,416.14 L51.75,418.38 L52.65,420.58 L53.55,422.75 L54.46,424.90 L55.36,427.02 L56.26,429.11 L57.17,431.17 L58.07,433.20 L58.97,435.20 L59.88,437.16 L60.78,439.10 L61.68,441.00 L62.58,442.87 L63.49,444.70 L64.39,446.50 L65.29,448.27 L66.20,450.00 L67.10,451.69 L68.00,453.35 L68.91,454.97 L69.81,456.55 L70.71,458.09 L71.62,459.60 L72.52,461.07 L73.42,462.49 L74.33,463.88 L75.23,465.22 L76.13,466.53 L77.04,467.79 L77.94,469.01 L78.84,470.19 L79.74,471.33 L80.65,472.43 L81.55,473.49 L82.45,474.52 L83.36,475.51 L84.26,476.46 L85.16,477.38 L86.07,478.27 L86.97,479.12 L87.87,479.94 L88.78,480.73 L89.68,481.48 L90.58,482.21 L91.49,482.91 L92.39,483.57 L93.29,484.21 L94.19,484.82 L95.10,485.40 L96.00,485.95 L96.90,486.47 L97.81,486.96 L98.71,487.42 L99.61,487.84 L100.52,488.24 L101.42,488.61 L102.32,488.94 L103.23,489.25 L104.13,489.52 L105.03,489.76 L105.94,489.97 L106.84,490.15 L107.74,490.29 L108.65,490.41 L109.55,490.49 L110.45,490.54 L111.35,490.55 L112.26,490.53 L113.16,490.48 L114.06,490.40 L114.97,490.28 L115.87,490.13 L116.77,489.95 L117.68,489.73 L118.58,489.47 L119.48,489.18 L120.39,488.86 L121.29,488.50 L122.19,488.11 L123.10,487.68 L124.00,487.22 L124.90,486.72 L125.81,486.19 L126.71,485.62 L127.61,485.01 L128.51,484.37 L129.42,483.70 L130.32,482.98 L131.22,482.24 L132.13,481.46 L133.03,480.64 L133.93,479.79 L134.84,478.90 L135.74,477.97 L136.64,477.01 L137.55,476.02 L138.45,474.98 L139.35,473.91 L140.26,472.81 L141.16,471.66 L142.06,470.48 L142.96,469.26 L143.87,468.00 L144.77,466.70 L145.67,465.36 L146.58,463.98 L147.48,462.56 L148.38,461.09 L149.29,459.59 L150.19,458.04 L151.09,456.45 L152.00,454.82 L152.90,453.15 L153.80,451.43 L154.71,449.67 L155.61,447.88 L156.51,446.04 L157.42,444.16 L158.32,442.24 L159.22,440.29 L160.12,438.30 L161.03,436.27 L161.93,434.20 L162.83,432.10 L163.74,429.96 L164.64,427.79 L165.54,425.58 L166.45,423.35 L167.35,421.08 L168.25,418.79 L169.16,416.47 L170.06,414.13 L170.96,411.77 L171.87,409.39 L172.77,406.99 L173.67,404.57 L174.57,402.14 L175.48,399.70 L176.38,397.25 L177.28,394.79 L178.19,392.32 L179.09,389.84 L179.99,387.37 L180.90,384.89 L181.80,382.40" fill="none" stroke="#3333ff" stroke-width="0.95" />
<path d="M38.20,383.79 L39.10,386.26 L40.01,388.73 L40.91,391.20 L41.81,393.64 L42.72,396.08 L43.62,398.50 L44.52,400.90 L45.43,403.28 L46.33,405.65 L47.23,408.00 L48.13,410.34 L49.04,412.65 L49.94,414.94 L50.84,417.21 L51.75,419.46 L52.65,421.68 L53.55,423.88 L54.46,426.06 L55.36,428.21 L56.26,430.33 L57.17,432.43 L58.07,434.50 L58.97,436.53 L59.88,438.54 L60.78,440.52 L61.68,442.47 L62.58,444.38 L63.49,446.26 L64.39,448.11 L65.29,449.92 L66.20,451.70 L67.10,453.44 L68.00,455.14 L68.91,456.81 L69.81,458.43 L70.71,460.02 L71.62,461.57 L72.52,463.07 L73.42,464.53 L74.33,465.95 L75.23,467.32 L76.13,468.65 L77.04,469.94 L77.94,471.18 L78.84,472.38 L79.74,473.53 L80.65,474.64 L81.55,475.72 L82.45,476.75 L83.36,477.75 L84.26,478.71 L85.16,479.63 L86.07,480.52 L86.97,481.38 L87.87,482.20 L88.78,483.00 L89.68,483.76 L90.58,484.49 L91.49,485.19 L92.39,485.87 L93.29,486.52 L94.19,487.14 L95.10,487.73 L96.00,488.29 L96.90,488.83 L97.81,489.33 L98.71,489.80 L99.61,490.25 L100.52,490.66 L101.42,491.04 L102.32,491.40 L103.23,491.72 L104.13,492.01 L105.03,492.26 L105.94,492.49 L106.84,492.68 L107.74,492.84 L108.65,492.97 L109.55,493.06 L110.45,493.12 L111.35,493.15 L112.26,493.14 L113.16,493.10 L114.06,493.02 L114.97,492.91 L115.87,492.76 L116.77,492.58 L117.68,492.36 L118.58,492.11 L119.48,491.82 L120.39,491.49 L121.29,491.12 L122.19,490.72 L123.10,490.28 L124.00,489.81 L124.90,489.29 L125.81,488.74 L126.71,488.16 L127.61,487.53 L128.51,486.87 L129.42,486.17 L130.32,485.43 L131.22,484.66 L132.13,483.84 L133.03,482.99 L133.93,482.11 L134.84,481.18 L135.74,480.22 L136.64,479.22 L137.55,478.18 L138.45,477.11 L139.35,475.99 L140.26,474.84 L141.16,473.65 L142.06,472.43 L142.96,471.17 L143.87,469.86 L144.77,468.52 L145.67,467.15 L146.58,465.73 L147.48,464.28 L148.38,462.79 L149.29,461.26 L150.19,459.69 L151.09,458.09 L152.00,456.45 L152.90,454.77 L153.80,453.05 L154.71,451.29 L155.61,449.50 L156.51,447.66 L157.42,445.79 L158.32,443.88 L159.22,441.93 L160.12,439.95 L161.03,437.92 L161.93,435.86 L162.83,433.76 L163.74,431.62 L164.64,429.45 L165.54,427.23 L166.45,424.99 L167.35,422.71 L168.25,420.40 L169.16,418.06 L170.06,415.69 L170.96,413.30 L171.87,410.88 L172.77,408.44 L173.67,405.99 L174.57,403.51 L175.48,401.02 L176.38,398.51 L177.28,395.99 L178.19,393.46 L179.09,390.92 L179.99,388.37 L180.90,385.81 L181.80,383.26" fill="none" stroke="#ff33ff" stroke-width="0.95" />
<line x1="110.5" y1="481.8" x2="110.5" y2="499.2" stroke="#ff1a1a" stroke-width="1.1"/>
<line x1="113.2" y1="481.8" x2="113.2" y2="498.8" stroke="#222" stroke-width="1.1"/>
<line x1="51.6" y1="413.4" x2="51.6" y2="421.8" stroke="#ff1a1a" stroke-width="1.1"/>
<line x1="175.2" y1="398.6" x2="175.2" y2="405.2" stroke="#ff1a1a" stroke-width="1.1"/>
</g>
<text x="113" y="400.6" font-family="Liberation Serif, serif" font-size="11.3" fill="#050505" stroke="#050505" stroke-width="0.26" text-anchor="middle" >Wavelength resolution</text>
<text x="113" y="414.0" font-family="Liberation Serif, serif" font-size="11.3" fill="#050505" stroke="#050505" stroke-width="0.26" text-anchor="middle" >0.28 nm</text>
<line x1="41.6" y1="471.2" x2="52.5" y2="471.2" stroke="#333333" stroke-width="1.15"/>
<text x="53.900000000000006" y="473.0" font-family="Liberation Sans, sans-serif" font-size="4.95" fill="#404040" stroke="#404040" stroke-width="0.04" text-anchor="start" >0</text>
<line x1="41.6" y1="477.3" x2="52.5" y2="477.3" stroke="#ff2a2a" stroke-width="1.15"/>
<text x="53.900000000000006" y="479.1" font-family="Liberation Sans, sans-serif" font-size="4.95" fill="#404040" stroke="#404040" stroke-width="0.04" text-anchor="start" >0.000022</text>
<line x1="41.6" y1="483.4" x2="52.5" y2="483.4" stroke="#22ee22" stroke-width="1.15"/>
<text x="53.900000000000006" y="485.2" font-family="Liberation Sans, sans-serif" font-size="4.95" fill="#404040" stroke="#404040" stroke-width="0.04" text-anchor="start" >0.000044</text>
<line x1="41.6" y1="489.5" x2="52.5" y2="489.5" stroke="#3333ff" stroke-width="1.15"/>
<text x="53.900000000000006" y="491.3" font-family="Liberation Sans, sans-serif" font-size="4.95" fill="#404040" stroke="#404040" stroke-width="0.04" text-anchor="start" >0.000066</text>
<line x1="41.6" y1="495.59999999999997" x2="52.5" y2="495.59999999999997" stroke="#ff33ff" stroke-width="1.15"/>
<text x="53.900000000000006" y="497.4" font-family="Liberation Sans, sans-serif" font-size="4.95" fill="#404040" stroke="#404040" stroke-width="0.04" text-anchor="start" >0.000088</text>
<line x1="33.3" y1="399.2" x2="35.5" y2="399.2" stroke="#7a7a7a" stroke-width="1"/>
<text x="31.5" y="401.59999999999997" font-family="Liberation Sans, sans-serif" font-size="6.8" fill="#1e1e1e" stroke="#1e1e1e" stroke-width="0.2" text-anchor="end" >-10.5</text>
<line x1="33.3" y1="433.5" x2="35.5" y2="433.5" stroke="#7a7a7a" stroke-width="1"/>
<text x="31.5" y="435.9" font-family="Liberation Sans, sans-serif" font-size="6.8" fill="#1e1e1e" stroke="#1e1e1e" stroke-width="0.2" text-anchor="end" >-12.0</text>
<line x1="33.3" y1="468.2" x2="35.5" y2="468.2" stroke="#7a7a7a" stroke-width="1"/>
<text x="31.5" y="470.59999999999997" font-family="Liberation Sans, sans-serif" font-size="6.8" fill="#1e1e1e" stroke="#1e1e1e" stroke-width="0.2" text-anchor="end" >-13.5</text>
<line x1="33.3" y1="502.3" x2="35.5" y2="502.3" stroke="#7a7a7a" stroke-width="1"/>
<text x="31.5" y="504.7" font-family="Liberation Sans, sans-serif" font-size="6.8" fill="#1e1e1e" stroke="#1e1e1e" stroke-width="0.2" text-anchor="end" >-15.0</text>
<line x1="34.3" y1="416.4" x2="35.5" y2="416.4" stroke="#7a7a7a" stroke-width="0.8"/>
<line x1="34.3" y1="450.9" x2="35.5" y2="450.9" stroke="#7a7a7a" stroke-width="0.8"/>
<line x1="34.3" y1="485.2" x2="35.5" y2="485.2" stroke="#7a7a7a" stroke-width="0.8"/>
<line x1="36" y1="502.7" x2="36" y2="504.9" stroke="#7a7a7a" stroke-width="1"/>
<text x="36.3" y="512.6" font-family="Liberation Sans, sans-serif" font-size="6.8" fill="#1e1e1e" stroke="#1e1e1e" stroke-width="0.2" text-anchor="middle" >1552.4</text>
<line x1="80" y1="502.7" x2="80" y2="504.9" stroke="#7a7a7a" stroke-width="1"/>
<text x="80.3" y="512.6" font-family="Liberation Sans, sans-serif" font-size="6.8" fill="#1e1e1e" stroke="#1e1e1e" stroke-width="0.2" text-anchor="middle" >1552.6</text>
<line x1="123.8" y1="502.7" x2="123.8" y2="504.9" stroke="#7a7a7a" stroke-width="1"/>
<text x="124.1" y="512.6" font-family="Liberation Sans, sans-serif" font-size="6.8" fill="#1e1e1e" stroke="#1e1e1e" stroke-width="0.2" text-anchor="middle" >1552.8</text>
<line x1="167.6" y1="502.7" x2="167.6" y2="504.9" stroke="#7a7a7a" stroke-width="1"/>
<text x="167.9" y="512.6" font-family="Liberation Sans, sans-serif" font-size="6.8" fill="#1e1e1e" stroke="#1e1e1e" stroke-width="0.2" text-anchor="middle" >1553.0</text>
<line x1="58" y1="502.7" x2="58" y2="503.9" stroke="#7a7a7a" stroke-width="0.8"/>
<line x1="101.9" y1="502.7" x2="101.9" y2="503.9" stroke="#7a7a7a" stroke-width="0.8"/>
<line x1="145.7" y1="502.7" x2="145.7" y2="503.9" stroke="#7a7a7a" stroke-width="0.8"/>
<text x="11.6" y="451.2" font-family="Liberation Sans, sans-serif" font-size="8.8" fill="#1e1e1e" stroke="#1e1e1e" stroke-width="0.3" text-anchor="middle" transform="rotate(-90 11.6 451.2)">Power (dBm)</text>
<text x="113" y="522.6" font-family="Liberation Sans, sans-serif" font-size="8.9" fill="#1e1e1e" stroke="#1e1e1e" stroke-width="0.25" text-anchor="middle" >Wavelength (nm)</text>
<text x="103.5" y="544.6" font-family="Liberation Serif, serif" font-size="11.3" fill="#1a1a1a" stroke="#1a1a1a" stroke-width="0.15" text-anchor="middle" >(a)</text>
<rect x="226.3" y="3.3" width="153.8" height="114.60000000000001" fill="none" stroke="#7a7a7a" stroke-width="1.1"/>
<line x1="224.10000000000002" y1="11.5" x2="226.3" y2="11.5" stroke="#7a7a7a" stroke-width="1"/>
<text x="222.3" y="13.9" font-family="Liberation Sans, sans-serif" font-size="6.8" fill="#1e1e1e" stroke="#1e1e1e" stroke-width="0.2" text-anchor="end" >0.0</text>
<line x1="224.10000000000002" y1="27.85" x2="226.3" y2="27.85" stroke="#7a7a7a" stroke-width="1"/>
<text x="222.3" y="30.25" font-family="Liberation Sans, sans-serif" font-size="6.8" fill="#1e1e1e" stroke="#1e1e1e" stroke-width="0.2" text-anchor="end" >-0.1</text>
<line x1="224.10000000000002" y1="44.2" x2="226.3" y2="44.2" stroke="#7a7a7a" stroke-width="1"/>
<text x="222.3" y="46.6" font-family="Liberation Sans, sans-serif" font-size="6.8" fill="#1e1e1e" stroke="#1e1e1e" stroke-width="0.2" text-anchor="end" >-0.2</text>
<line x1="224.10000000000002" y1="60.550000000000004" x2="226.3" y2="60.550000000000004" stroke="#7a7a7a" stroke-width="1"/>
<text x="222.3" y="62.95" font-family="Liberation Sans, sans-serif" font-size="6.8" fill="#1e1e1e" stroke="#1e1e1e" stroke-width="0.2" text-anchor="end" >-0.3</text>
<line x1="224.10000000000002" y1="76.9" x2="226.3" y2="76.9" stroke="#7a7a7a" stroke-width="1"/>
<text x="222.3" y="79.30000000000001" font-family="Liberation Sans, sans-serif" font-size="6.8" fill="#1e1e1e" stroke="#1e1e1e" stroke-width="0.2" text-anchor="end" >-0.4</text>
<line x1="224.10000000000002" y1="93.25" x2="226.3" y2="93.25" stroke="#7a7a7a" stroke-width="1"/>
<text x="222.3" y="95.65" font-family="Liberation Sans, sans-serif" font-size="6.8" fill="#1e1e1e" stroke="#1e1e1e" stroke-width="0.2" text-anchor="end" >-0.5</text>
<line x1="224.10000000000002" y1="109.60000000000001" x2="226.3" y2="109.60000000000001" stroke="#7a7a7a" stroke-width="1"/>
<text x="222.3" y="112.00000000000001" font-family="Liberation Sans, sans-serif" font-size="6.8" fill="#1e1e1e" stroke="#1e1e1e" stroke-width="0.2" text-anchor="end" >-0.6</text>
<line x1="225.10000000000002" y1="19.675" x2="226.3" y2="19.675" stroke="#7a7a7a" stroke-width="0.8"/>
<line x1="225.10000000000002" y1="36.025000000000006" x2="226.3" y2="36.025000000000006" stroke="#7a7a7a" stroke-width="0.8"/>
<line x1="225.10000000000002" y1="52.375" x2="226.3" y2="52.375" stroke="#7a7a7a" stroke-width="0.8"/>
<line x1="225.10000000000002" y1="68.72500000000001" x2="226.3" y2="68.72500000000001" stroke="#7a7a7a" stroke-width="0.8"/>
<line x1="225.10000000000002" y1="85.075" x2="226.3" y2="85.075" stroke="#7a7a7a" stroke-width="0.8"/>
<line x1="225.10000000000002" y1="101.425" x2="226.3" y2="101.425" stroke="#7a7a7a" stroke-width="0.8"/>
<line x1="240.3" y1="117.9" x2="240.3" y2="120.10000000000001" stroke="#7a7a7a" stroke-width="1"/>
<text x="240.0" y="127.2" font-family="Liberation Sans, sans-serif" font-size="6.8" fill="#1e1e1e" stroke="#1e1e1e" stroke-width="0.2" text-anchor="middle" >0.0</text>
<line x1="271.1" y1="117.9" x2="271.1" y2="120.10000000000001" stroke="#7a7a7a" stroke-width="1"/>
<text x="270.8" y="127.2" font-family="Liberation Sans, sans-serif" font-size="6.8" fill="#1e1e1e" stroke="#1e1e1e" stroke-width="0.2" text-anchor="middle" >2.2</text>
<line x1="301.9" y1="117.9" x2="301.9" y2="120.10000000000001" stroke="#7a7a7a" stroke-width="1"/>
<text x="301.59999999999997" y="127.2" font-family="Liberation Sans, sans-serif" font-size="6.8" fill="#1e1e1e" stroke="#1e1e1e" stroke-width="0.2" text-anchor="middle" >4.4</text>
<line x1="332.6" y1="117.9" x2="332.6" y2="120.10000000000001" stroke="#7a7a7a" stroke-width="1"/>
<text x="332.3" y="127.2" font-family="Liberation Sans, sans-serif" font-size="6.8" fill="#1e1e1e" stroke="#1e1e1e" stroke-width="0.2" text-anchor="middle" >6.6</text>
<line x1="363.4" y1="117.9" x2="363.4" y2="120.10000000000001" stroke="#7a7a7a" stroke-width="1"/>
<text x="363.09999999999997" y="127.2" font-family="Liberation Sans, sans-serif" font-size="6.8" fill="#1e1e1e" stroke="#1e1e1e" stroke-width="0.2" text-anchor="middle" >8.8</text>
<line x1="255.70000000000002" y1="117.9" x2="255.70000000000002" y2="119.10000000000001" stroke="#7a7a7a" stroke-width="0.8"/>
<line x1="286.5" y1="117.9" x2="286.5" y2="119.10000000000001" stroke="#7a7a7a" stroke-width="0.8"/>
<line x1="317.25" y1="117.9" x2="317.25" y2="119.10000000000001" stroke="#7a7a7a" stroke-width="0.8"/>
<line x1="348.0" y1="117.9" x2="348.0" y2="119.10000000000001" stroke="#7a7a7a" stroke-width="0.8"/>
<clipPath id="cb1"><rect x="226.3" y="3.3" width="153.8" height="114.60000000000001"/></clipPath>
<g clip-path="url(#cb1)">
<line x1="240.4" y1="8.3" x2="363.5" y2="109.5" stroke="#ff1111" stroke-width="1.1"/>
<circle cx="240.3" cy="11.7" r="1.4" fill="#ff1111"/>
<circle cx="271.1" cy="30.2" r="1.4" fill="#ff1111"/>
<circle cx="301.9" cy="56.9" r="1.4" fill="#ff1111"/>
<circle cx="332.8" cy="83.9" r="1.4" fill="#ff1111"/>
<circle cx="363.5" cy="109.2" r="1.4" fill="#ff1111"/>
</g>
<text x="205.3" y="66.2" font-family="Liberation Sans, sans-serif" font-size="8.8" fill="#1e1e1e" stroke="#1e1e1e" stroke-width="0.3" text-anchor="middle" transform="rotate(-90 205.3 66.2)">Power (dB)</text>
<rect x="300.7" y="6.6000000000000005" width="2.0" height="2.0" fill="#111"/>
<text x="310.8" y="9.8" font-family="Liberation Serif, serif" font-size="6.9" fill="#1e1e1e" stroke="#1e1e1e" stroke-width="0.15" text-anchor="start" >Original data</text>
<line x1="294.2" y1="15.8" x2="309.5" y2="15.8" stroke="#555" stroke-width="1.2"/>
<text x="310.8" y="18.2" font-family="Liberation Serif, serif" font-size="6.9" fill="#1e1e1e" stroke="#1e1e1e" stroke-width="0.15" text-anchor="start" >Linear fit</text>
<text x="295.2" y="27.3" font-family="Liberation Serif, serif" font-size="6.8" fill="#1e1e1e" stroke="#1e1e1e" stroke-width="0.15" text-anchor="start" >Slope=−6887 dB/RIU</text>
<text x="295.2" y="35.2" font-family="Liberation Serif, serif" font-size="6.8" fill="#1e1e1e" stroke="#1e1e1e" stroke-width="0.15" text-anchor="start" >R<tspan font-size="3.6" dy="-2.9">2</tspan><tspan dy="2.9">=</tspan>99.6%</text>
<circle cx="238.29999999999998" cy="69.60000000000001" r="1.3" fill="#ff1111"/>
<text x="247.6" y="71.9" font-family="Liberation Serif, serif" font-size="6.9" fill="#1e1e1e" stroke="#1e1e1e" stroke-width="0.15" text-anchor="start" >Parabolic equation</text>
<line x1="230.2" y1="78.7" x2="245.79999999999998" y2="78.7" stroke="#ff3333" stroke-width="1.2"/>
<text x="247.6" y="80.80000000000001" font-family="Liberation Serif, serif" font-size="6.9" fill="#1e1e1e" stroke="#1e1e1e" stroke-width="0.15" text-anchor="start" >Linear fit</text>
<text x="232.3" y="88.9" font-family="Liberation Serif, serif" font-size="6.8" fill="#1e1e1e" stroke="#1e1e1e" stroke-width="0.15" text-anchor="start" >Slope=−6887 dB/RIU</text>
<text x="232.3" y="96.6" font-family="Liberation Serif, serif" font-size="6.8" fill="#1e1e1e" stroke="#1e1e1e" stroke-width="0.15" text-anchor="start" >R<tspan font-size="3.6" dy="-2.9">2</tspan><tspan dy="2.9">=</tspan>99.6%</text>
<rect x="226.5" y="130.7" width="154.0" height="114.9" fill="none" stroke="#7a7a7a" stroke-width="1.1"/>
<line x1="224.3" y1="139.3" x2="226.5" y2="139.3" stroke="#7a7a7a" stroke-width="1"/>
<text x="222.5" y="141.70000000000002" font-family="Liberation Sans, sans-serif" font-size="6.8" fill="#1e1e1e" stroke="#1e1e1e" stroke-width="0.2" text-anchor="end" >0.0</text>
<line x1="224.3" y1="156.95000000000002" x2="226.5" y2="156.95000000000002" stroke="#7a7a7a" stroke-width="1"/>
<text x="222.5" y="159.35000000000002" font-family="Liberation Sans, sans-serif" font-size="6.8" fill="#1e1e1e" stroke="#1e1e1e" stroke-width="0.2" text-anchor="end" >-0.1</text>
<line x1="224.3" y1="174.60000000000002" x2="226.5" y2="174.60000000000002" stroke="#7a7a7a" stroke-width="1"/>
<text x="222.5" y="177.00000000000003" font-family="Liberation Sans, sans-serif" font-size="6.8" fill="#1e1e1e" stroke="#1e1e1e" stroke-width="0.2" text-anchor="end" >-0.2</text>
<line x1="224.3" y1="192.25" x2="226.5" y2="192.25" stroke="#7a7a7a" stroke-width="1"/>
<text x="222.5" y="194.65" font-family="Liberation Sans, sans-serif" font-size="6.8" fill="#1e1e1e" stroke="#1e1e1e" stroke-width="0.2" text-anchor="end" >-0.3</text>
<line x1="224.3" y1="209.9" x2="226.5" y2="209.9" stroke="#7a7a7a" stroke-width="1"/>
<text x="222.5" y="212.3" font-family="Liberation Sans, sans-serif" font-size="6.8" fill="#1e1e1e" stroke="#1e1e1e" stroke-width="0.2" text-anchor="end" >-0.4</text>
<line x1="224.3" y1="227.55" x2="226.5" y2="227.55" stroke="#7a7a7a" stroke-width="1"/>
<text x="222.5" y="229.95000000000002" font-family="Liberation Sans, sans-serif" font-size="6.8" fill="#1e1e1e" stroke="#1e1e1e" stroke-width="0.2" text-anchor="end" >-0.5</text>
<line x1="224.3" y1="245.2" x2="226.5" y2="245.2" stroke="#7a7a7a" stroke-width="1"/>
<text x="222.5" y="247.6" font-family="Liberation Sans, sans-serif" font-size="6.8" fill="#1e1e1e" stroke="#1e1e1e" stroke-width="0.2" text-anchor="end" >-0.6</text>
<line x1="225.3" y1="148.125" x2="226.5" y2="148.125" stroke="#7a7a7a" stroke-width="0.8"/>
<line x1="225.3" y1="165.775" x2="226.5" y2="165.775" stroke="#7a7a7a" stroke-width="0.8"/>
<line x1="225.3" y1="183.425" x2="226.5" y2="183.425" stroke="#7a7a7a" stroke-width="0.8"/>
<line x1="225.3" y1="201.075" x2="226.5" y2="201.075" stroke="#7a7a7a" stroke-width="0.8"/>
<line x1="225.3" y1="218.725" x2="226.5" y2="218.725" stroke="#7a7a7a" stroke-width="0.8"/>
<line x1="225.3" y1="236.375" x2="226.5" y2="236.375" stroke="#7a7a7a" stroke-width="0.8"/>
<line x1="240.3" y1="245.6" x2="240.3" y2="247.79999999999998" stroke="#7a7a7a" stroke-width="1"/>
<text x="240.0" y="254.9" font-family="Liberation Sans, sans-serif" font-size="6.8" fill="#1e1e1e" stroke="#1e1e1e" stroke-width="0.2" text-anchor="middle" >0.0</text>
<line x1="271.1" y1="245.6" x2="271.1" y2="247.79999999999998" stroke="#7a7a7a" stroke-width="1"/>
<text x="270.8" y="254.9" font-family="Liberation Sans, sans-serif" font-size="6.8" fill="#1e1e1e" stroke="#1e1e1e" stroke-width="0.2" text-anchor="middle" >2.2</text>
<line x1="301.9" y1="245.6" x2="301.9" y2="247.79999999999998" stroke="#7a7a7a" stroke-width="1"/>
<text x="301.59999999999997" y="254.9" font-family="Liberation Sans, sans-serif" font-size="6.8" fill="#1e1e1e" stroke="#1e1e1e" stroke-width="0.2" text-anchor="middle" >4.4</text>
<line x1="332.6" y1="245.6" x2="332.6" y2="247.79999999999998" stroke="#7a7a7a" stroke-width="1"/>
<text x="332.3" y="254.9" font-family="Liberation Sans, sans-serif" font-size="6.8" fill="#1e1e1e" stroke="#1e1e1e" stroke-width="0.2" text-anchor="middle" >6.6</text>
<line x1="363.4" y1="245.6" x2="363.4" y2="247.79999999999998" stroke="#7a7a7a" stroke-width="1"/>
<text x="363.09999999999997" y="254.9" font-family="Liberation Sans, sans-serif" font-size="6.8" fill="#1e1e1e" stroke="#1e1e1e" stroke-width="0.2" text-anchor="middle" >8.8</text>
<line x1="255.70000000000002" y1="245.6" x2="255.70000000000002" y2="246.79999999999998" stroke="#7a7a7a" stroke-width="0.8"/>
<line x1="286.5" y1="245.6" x2="286.5" y2="246.79999999999998" stroke="#7a7a7a" stroke-width="0.8"/>
<line x1="317.25" y1="245.6" x2="317.25" y2="246.79999999999998" stroke="#7a7a7a" stroke-width="0.8"/>
<line x1="348.0" y1="245.6" x2="348.0" y2="246.79999999999998" stroke="#7a7a7a" stroke-width="0.8"/>
<clipPath id="cb2"><rect x="226.5" y="130.7" width="154.0" height="114.9"/></clipPath>
<g clip-path="url(#cb2)">
<line x1="240.4" y1="137.9" x2="363.5" y2="228.2" stroke="#1a1a1a" stroke-width="1.1"/>
<line x1="240.4" y1="137.6" x2="363.5" y2="236.5" stroke="#ff1111" stroke-width="1.1"/>
<rect x="239.15" y="138.25" width="2.3" height="2.3" fill="#111"/>
<rect x="269.85" y="157.85" width="2.3" height="2.3" fill="#111"/>
<rect x="300.75" y="181.25" width="2.3" height="2.3" fill="#111"/>
<rect x="332.15000000000003" y="204.45" width="2.3" height="2.3" fill="#111"/>
<rect x="362.35" y="226.35" width="2.3" height="2.3" fill="#111"/>
<circle cx="240.3" cy="139.4" r="1.4" fill="#ff1111"/>
<circle cx="271" cy="159.4" r="1.4" fill="#ff1111"/>
<circle cx="301.9" cy="185" r="1.4" fill="#ff1111"/>
<circle cx="333.3" cy="211.1" r="1.4" fill="#ff1111"/>
<circle cx="363.5" cy="236.7" r="1.4" fill="#ff1111"/>
</g>
<text x="205.3" y="194.5" font-family="Liberation Sans, sans-serif" font-size="8.8" fill="#1e1e1e" stroke="#1e1e1e" stroke-width="0.3" text-anchor="middle" transform="rotate(-90 205.3 194.5)">Power (dB)</text>
<rect x="300.7" y="133.8" width="2.0" height="2.0" fill="#111"/>
<text x="310.8" y="137.0" font-family="Liberation Serif, serif" font-size="6.9" fill="#1e1e1e" stroke="#1e1e1e" stroke-width="0.15" text-anchor="start" >Original data</text>
<line x1="294.2" y1="143.0" x2="309.5" y2="143.0" stroke="#111" stroke-width="1.2"/>
<text x="310.8" y="145.4" font-family="Liberation Serif, serif" font-size="6.9" fill="#1e1e1e" stroke="#1e1e1e" stroke-width="0.15" text-anchor="start" >Linear fit</text>
<text x="295.4" y="154.5" font-family="Liberation Serif, serif" font-size="6.8" fill="#1e1e1e" stroke="#1e1e1e" stroke-width="0.15" text-anchor="start" >Slope=−5685 dB/RIU</text>
<text x="295.4" y="169.7" font-family="Liberation Serif, serif" font-size="6.8" fill="#1e1e1e" stroke="#1e1e1e" stroke-width="0.15" text-anchor="start" >R<tspan font-size="3.6" dy="-2.9">2</tspan><tspan dy="2.9">=</tspan>99.9%</text>
<circle cx="238.29999999999998" cy="197.5" r="1.3" fill="#ff1111"/>
<text x="247.6" y="199.8" font-family="Liberation Serif, serif" font-size="6.9" fill="#1e1e1e" stroke="#1e1e1e" stroke-width="0.15" text-anchor="start" >Parabolic equation</text>
<line x1="230.2" y1="206.60000000000002" x2="245.79999999999998" y2="206.60000000000002" stroke="#ff3333" stroke-width="1.2"/>
<text x="247.6" y="208.70000000000002" font-family="Liberation Serif, serif" font-size="6.9" fill="#1e1e1e" stroke="#1e1e1e" stroke-width="0.15" text-anchor="start" >Linear fit</text>
<text x="232.7" y="216.8" font-family="Liberation Serif, serif" font-size="6.8" fill="#1e1e1e" stroke="#1e1e1e" stroke-width="0.15" text-anchor="start" >Slope=−6322 dB/RIU</text>
<text x="232.7" y="224.5" font-family="Liberation Serif, serif" font-size="6.8" fill="#1e1e1e" stroke="#1e1e1e" stroke-width="0.15" text-anchor="start" >R<tspan font-size="3.6" dy="-2.9">2</tspan><tspan dy="2.9">=</tspan>99.7%</text>
<rect x="225.5" y="258.5" width="155.5" height="115.80000000000001" fill="none" stroke="#7a7a7a" stroke-width="1.1"/>
<line x1="223.3" y1="267.2" x2="225.5" y2="267.2" stroke="#7a7a7a" stroke-width="1"/>
<text x="221.5" y="269.59999999999997" font-family="Liberation Sans, sans-serif" font-size="6.8" fill="#1e1e1e" stroke="#1e1e1e" stroke-width="0.2" text-anchor="end" >0.0</text>
<line x1="223.3" y1="285.05" x2="225.5" y2="285.05" stroke="#7a7a7a" stroke-width="1"/>
<text x="221.5" y="287.45" font-family="Liberation Sans, sans-serif" font-size="6.8" fill="#1e1e1e" stroke="#1e1e1e" stroke-width="0.2" text-anchor="end" >-0.1</text>
<line x1="223.3" y1="302.9" x2="225.5" y2="302.9" stroke="#7a7a7a" stroke-width="1"/>
<text x="221.5" y="305.29999999999995" font-family="Liberation Sans, sans-serif" font-size="6.8" fill="#1e1e1e" stroke="#1e1e1e" stroke-width="0.2" text-anchor="end" >-0.2</text>
<line x1="223.3" y1="320.75" x2="225.5" y2="320.75" stroke="#7a7a7a" stroke-width="1"/>
<text x="221.5" y="323.15" font-family="Liberation Sans, sans-serif" font-size="6.8" fill="#1e1e1e" stroke="#1e1e1e" stroke-width="0.2" text-anchor="end" >-0.3</text>
<line x1="223.3" y1="338.6" x2="225.5" y2="338.6" stroke="#7a7a7a" stroke-width="1"/>
<text x="221.5" y="341.0" font-family="Liberation Sans, sans-serif" font-size="6.8" fill="#1e1e1e" stroke="#1e1e1e" stroke-width="0.2" text-anchor="end" >-0.4</text>
<line x1="223.3" y1="356.45" x2="225.5" y2="356.45" stroke="#7a7a7a" stroke-width="1"/>
<text x="221.5" y="358.84999999999997" font-family="Liberation Sans, sans-serif" font-size="6.8" fill="#1e1e1e" stroke="#1e1e1e" stroke-width="0.2" text-anchor="end" >-0.5</text>
<line x1="223.3" y1="374.3" x2="225.5" y2="374.3" stroke="#7a7a7a" stroke-width="1"/>
<text x="221.5" y="376.7" font-family="Liberation Sans, sans-serif" font-size="6.8" fill="#1e1e1e" stroke="#1e1e1e" stroke-width="0.2" text-anchor="end" >-0.6</text>
<line x1="224.3" y1="276.125" x2="225.5" y2="276.125" stroke="#7a7a7a" stroke-width="0.8"/>
<line x1="224.3" y1="293.975" x2="225.5" y2="293.975" stroke="#7a7a7a" stroke-width="0.8"/>
<line x1="224.3" y1="311.825" x2="225.5" y2="311.825" stroke="#7a7a7a" stroke-width="0.8"/>
<line x1="224.3" y1="329.675" x2="225.5" y2="329.675" stroke="#7a7a7a" stroke-width="0.8"/>
<line x1="224.3" y1="347.52500000000003" x2="225.5" y2="347.52500000000003" stroke="#7a7a7a" stroke-width="0.8"/>
<line x1="224.3" y1="365.375" x2="225.5" y2="365.375" stroke="#7a7a7a" stroke-width="0.8"/>
<line x1="240.3" y1="374.3" x2="240.3" y2="376.5" stroke="#7a7a7a" stroke-width="1"/>
<text x="240.0" y="383.6" font-family="Liberation Sans, sans-serif" font-size="6.8" fill="#1e1e1e" stroke="#1e1e1e" stroke-width="0.2" text-anchor="middle" >0.0</text>
<line x1="271.1" y1="374.3" x2="271.1" y2="376.5" stroke="#7a7a7a" stroke-width="1"/>
<text x="270.8" y="383.6" font-family="Liberation Sans, sans-serif" font-size="6.8" fill="#1e1e1e" stroke="#1e1e1e" stroke-width="0.2" text-anchor="middle" >2.2</text>
<line x1="301.9" y1="374.3" x2="301.9" y2="376.5" stroke="#7a7a7a" stroke-width="1"/>
<text x="301.59999999999997" y="383.6" font-family="Liberation Sans, sans-serif" font-size="6.8" fill="#1e1e1e" stroke="#1e1e1e" stroke-width="0.2" text-anchor="middle" >4.4</text>
<line x1="332.6" y1="374.3" x2="332.6" y2="376.5" stroke="#7a7a7a" stroke-width="1"/>
<text x="332.3" y="383.6" font-family="Liberation Sans, sans-serif" font-size="6.8" fill="#1e1e1e" stroke="#1e1e1e" stroke-width="0.2" text-anchor="middle" >6.6</text>
<line x1="363.4" y1="374.3" x2="363.4" y2="376.5" stroke="#7a7a7a" stroke-width="1"/>
<text x="363.09999999999997" y="383.6" font-family="Liberation Sans, sans-serif" font-size="6.8" fill="#1e1e1e" stroke="#1e1e1e" stroke-width="0.2" text-anchor="middle" >8.8</text>
<line x1="255.70000000000002" y1="374.3" x2="255.70000000000002" y2="375.5" stroke="#7a7a7a" stroke-width="0.8"/>
<line x1="286.5" y1="374.3" x2="286.5" y2="375.5" stroke="#7a7a7a" stroke-width="0.8"/>
<line x1="317.25" y1="374.3" x2="317.25" y2="375.5" stroke="#7a7a7a" stroke-width="0.8"/>
<line x1="348.0" y1="374.3" x2="348.0" y2="375.5" stroke="#7a7a7a" stroke-width="0.8"/>
<clipPath id="cb3"><rect x="225.5" y="258.5" width="155.5" height="115.80000000000001"/></clipPath>
<g clip-path="url(#cb3)">
<line x1="240.4" y1="264.3" x2="363.5" y2="349.2" stroke="#1a1a1a" stroke-width="1.1"/>
<line x1="240.4" y1="264.2" x2="363.5" y2="354.7" stroke="#ff1111" stroke-width="1.1"/>
<rect x="239.15" y="266.05" width="2.3" height="2.3" fill="#111"/>
<rect x="269.85" y="283.35" width="2.3" height="2.3" fill="#111"/>
<rect x="300.75" y="302.45000000000005" width="2.3" height="2.3" fill="#111"/>
<rect x="332.15000000000003" y="326.25" width="2.3" height="2.3" fill="#111"/>
<rect x="362.35" y="351.35" width="2.3" height="2.3" fill="#111"/>
<circle cx="240.3" cy="267.4" r="1.4" fill="#ff1111"/>
<circle cx="271" cy="284.9" r="1.4" fill="#ff1111"/>
<circle cx="301.9" cy="307" r="1.4" fill="#ff1111"/>
<circle cx="333.3" cy="332.8" r="1.4" fill="#ff1111"/>
<circle cx="363.5" cy="358.6" r="1.4" fill="#ff1111"/>
</g>
<text x="205.3" y="322.4" font-family="Liberation Sans, sans-serif" font-size="8.8" fill="#1e1e1e" stroke="#1e1e1e" stroke-width="0.3" text-anchor="middle" transform="rotate(-90 205.3 322.4)">Power (dB)</text>
<rect x="300.7" y="261.8" width="2.0" height="2.0" fill="#111"/>
<text x="310.8" y="265.0" font-family="Liberation Serif, serif" font-size="6.9" fill="#1e1e1e" stroke="#1e1e1e" stroke-width="0.15" text-anchor="start" >Original data</text>
<line x1="294.2" y1="271.0" x2="309.5" y2="271.0" stroke="#111" stroke-width="1.2"/>
<text x="310.8" y="273.4" font-family="Liberation Serif, serif" font-size="6.9" fill="#1e1e1e" stroke="#1e1e1e" stroke-width="0.15" text-anchor="start" >Linear fit</text>
<text x="297.3" y="282" font-family="Liberation Serif, serif" font-size="6.8" fill="#1e1e1e" stroke="#1e1e1e" stroke-width="0.15" text-anchor="start" >Slope=−5415 dB/RIU</text>
<text x="297.3" y="289.3" font-family="Liberation Serif, serif" font-size="6.8" fill="#1e1e1e" stroke="#1e1e1e" stroke-width="0.15" text-anchor="start" >R<tspan font-size="3.6" dy="-2.9">2</tspan><tspan dy="2.9">=</tspan>99.3%</text>
<circle cx="238.29999999999998" cy="325.8" r="1.3" fill="#ff1111"/>
<text x="247.6" y="328.1" font-family="Liberation Serif, serif" font-size="6.9" fill="#1e1e1e" stroke="#1e1e1e" stroke-width="0.15" text-anchor="start" >Parabolic equation</text>
<line x1="230.2" y1="334.90000000000003" x2="245.79999999999998" y2="334.90000000000003" stroke="#ff3333" stroke-width="1.2"/>
<text x="247.6" y="337.0" font-family="Liberation Serif, serif" font-size="6.9" fill="#1e1e1e" stroke="#1e1e1e" stroke-width="0.15" text-anchor="start" >Linear fit</text>
<text x="233.9" y="345.8" font-family="Liberation Serif, serif" font-size="6.8" fill="#1e1e1e" stroke="#1e1e1e" stroke-width="0.15" text-anchor="start" >Slope=−5850 dB/RIU</text>
<text x="233.9" y="353.2" font-family="Liberation Serif, serif" font-size="6.8" fill="#1e1e1e" stroke="#1e1e1e" stroke-width="0.15" text-anchor="start" >R<tspan font-size="3.6" dy="-2.9">2</tspan><tspan dy="2.9">=</tspan>99.5%</text>
<rect x="225.4" y="387.4" width="154.70000000000002" height="114.90000000000003" fill="none" stroke="#7a7a7a" stroke-width="1.1"/>
<line x1="223.20000000000002" y1="399.6" x2="225.4" y2="399.6" stroke="#7a7a7a" stroke-width="1"/>
<text x="221.4" y="402.0" font-family="Liberation Sans, sans-serif" font-size="6.8" fill="#1e1e1e" stroke="#1e1e1e" stroke-width="0.2" text-anchor="end" >0.0</text>
<line x1="223.20000000000002" y1="423.75" x2="225.4" y2="423.75" stroke="#7a7a7a" stroke-width="1"/>
<text x="221.4" y="426.15" font-family="Liberation Sans, sans-serif" font-size="6.8" fill="#1e1e1e" stroke="#1e1e1e" stroke-width="0.2" text-anchor="end" >-0.1</text>
<line x1="223.20000000000002" y1="447.90000000000003" x2="225.4" y2="447.90000000000003" stroke="#7a7a7a" stroke-width="1"/>
<text x="221.4" y="450.3" font-family="Liberation Sans, sans-serif" font-size="6.8" fill="#1e1e1e" stroke="#1e1e1e" stroke-width="0.2" text-anchor="end" >-0.2</text>
<line x1="223.20000000000002" y1="472.05" x2="225.4" y2="472.05" stroke="#7a7a7a" stroke-width="1"/>
<text x="221.4" y="474.45" font-family="Liberation Sans, sans-serif" font-size="6.8" fill="#1e1e1e" stroke="#1e1e1e" stroke-width="0.2" text-anchor="end" >-0.3</text>
<line x1="223.20000000000002" y1="496.20000000000005" x2="225.4" y2="496.20000000000005" stroke="#7a7a7a" stroke-width="1"/>
<text x="221.4" y="498.6" font-family="Liberation Sans, sans-serif" font-size="6.8" fill="#1e1e1e" stroke="#1e1e1e" stroke-width="0.2" text-anchor="end" >-0.4</text>
<line x1="224.20000000000002" y1="411.675" x2="225.4" y2="411.675" stroke="#7a7a7a" stroke-width="0.8"/>
<line x1="224.20000000000002" y1="435.825" x2="225.4" y2="435.825" stroke="#7a7a7a" stroke-width="0.8"/>
<line x1="224.20000000000002" y1="459.975" x2="225.4" y2="459.975" stroke="#7a7a7a" stroke-width="0.8"/>
<line x1="224.20000000000002" y1="484.125" x2="225.4" y2="484.125" stroke="#7a7a7a" stroke-width="0.8"/>
<line x1="240.3" y1="502.3" x2="240.3" y2="504.5" stroke="#7a7a7a" stroke-width="1"/>
<text x="240.0" y="511.6" font-family="Liberation Sans, sans-serif" font-size="6.8" fill="#1e1e1e" stroke="#1e1e1e" stroke-width="0.2" text-anchor="middle" >0.0</text>
<line x1="271.1" y1="502.3" x2="271.1" y2="504.5" stroke="#7a7a7a" stroke-width="1"/>
<text x="270.8" y="511.6" font-family="Liberation Sans, sans-serif" font-size="6.8" fill="#1e1e1e" stroke="#1e1e1e" stroke-width="0.2" text-anchor="middle" >2.2</text>
<line x1="301.9" y1="502.3" x2="301.9" y2="504.5" stroke="#7a7a7a" stroke-width="1"/>
<text x="301.59999999999997" y="511.6" font-family="Liberation Sans, sans-serif" font-size="6.8" fill="#1e1e1e" stroke="#1e1e1e" stroke-width="0.2" text-anchor="middle" >4.4</text>
<line x1="332.6" y1="502.3" x2="332.6" y2="504.5" stroke="#7a7a7a" stroke-width="1"/>
<text x="332.3" y="511.6" font-family="Liberation Sans, sans-serif" font-size="6.8" fill="#1e1e1e" stroke="#1e1e1e" stroke-width="0.2" text-anchor="middle" >6.6</text>
<line x1="363.4" y1="502.3" x2="363.4" y2="504.5" stroke="#7a7a7a" stroke-width="1"/>
<text x="363.09999999999997" y="511.6" font-family="Liberation Sans, sans-serif" font-size="6.8" fill="#1e1e1e" stroke="#1e1e1e" stroke-width="0.2" text-anchor="middle" >8.8</text>
<line x1="255.70000000000002" y1="502.3" x2="255.70000000000002" y2="503.5" stroke="#7a7a7a" stroke-width="0.8"/>
<line x1="286.5" y1="502.3" x2="286.5" y2="503.5" stroke="#7a7a7a" stroke-width="0.8"/>
<line x1="317.25" y1="502.3" x2="317.25" y2="503.5" stroke="#7a7a7a" stroke-width="0.8"/>
<line x1="348.0" y1="502.3" x2="348.0" y2="503.5" stroke="#7a7a7a" stroke-width="0.8"/>
<clipPath id="cb4"><rect x="225.4" y="387.4" width="154.70000000000002" height="114.90000000000003"/></clipPath>
<g clip-path="url(#cb4)">
<line x1="239.6" y1="395.2" x2="363.1" y2="488.8" stroke="#1a1a1a" stroke-width="1.1"/>
<line x1="239.6" y1="395.7" x2="363.1" y2="489.3" stroke="#ff1111" stroke-width="1.1"/>
<circle cx="239.4" cy="399.5" r="1.4" fill="#ff1111"/>
<circle cx="270.4" cy="417.2" r="1.4" fill="#ff1111"/>
<circle cx="301.3" cy="439" r="1.4" fill="#ff1111"/>
<circle cx="332.4" cy="465" r="1.4" fill="#ff1111"/>
<circle cx="363.1" cy="492.1" r="1.4" fill="#ff1111"/>
</g>
<text x="205.3" y="450.8" font-family="Liberation Sans, sans-serif" font-size="8.8" fill="#1e1e1e" stroke="#1e1e1e" stroke-width="0.3" text-anchor="middle" transform="rotate(-90 205.3 450.8)">Power (dB)</text>
<rect x="300.7" y="390.40000000000003" width="2.0" height="2.0" fill="#111"/>
<text x="310.8" y="393.6" font-family="Liberation Serif, serif" font-size="6.9" fill="#1e1e1e" stroke="#1e1e1e" stroke-width="0.15" text-anchor="start" >Original data</text>
<line x1="294.2" y1="400.3" x2="309.5" y2="400.3" stroke="#111" stroke-width="1.2"/>
<text x="310.8" y="402.7" font-family="Liberation Serif, serif" font-size="6.9" fill="#1e1e1e" stroke="#1e1e1e" stroke-width="0.15" text-anchor="start" >Linear fit</text>
<text x="296.9" y="410.5" font-family="Liberation Serif, serif" font-size="6.8" fill="#1e1e1e" stroke="#1e1e1e" stroke-width="0.15" text-anchor="start" >Slope=−4359 dB/RIU</text>
<text x="296.9" y="418.3" font-family="Liberation Serif, serif" font-size="6.8" fill="#1e1e1e" stroke="#1e1e1e" stroke-width="0.15" text-anchor="start" >R<tspan font-size="3.6" dy="-2.9">2</tspan><tspan dy="2.9">=</tspan>99.3%</text>
<circle cx="237.5" cy="454.09999999999997" r="1.3" fill="#ff1111"/>
<text x="246.8" y="456.4" font-family="Liberation Serif, serif" font-size="6.9" fill="#1e1e1e" stroke="#1e1e1e" stroke-width="0.15" text-anchor="start" >Parabolic equation</text>
<line x1="229.4" y1="463.2" x2="245.0" y2="463.2" stroke="#ff3333" stroke-width="1.2"/>
<text x="246.8" y="465.29999999999995" font-family="Liberation Serif, serif" font-size="6.9" fill="#1e1e1e" stroke="#1e1e1e" stroke-width="0.15" text-anchor="start" >Linear fit</text>
<text x="232.3" y="473.8" font-family="Liberation Serif, serif" font-size="6.8" fill="#1e1e1e" stroke="#1e1e1e" stroke-width="0.15" text-anchor="start" >Slope=−4385 dB/RIU</text>
<text x="232.3" y="481.5" font-family="Liberation Serif, serif" font-size="6.8" fill="#1e1e1e" stroke="#1e1e1e" stroke-width="0.15" text-anchor="start" >R<tspan font-size="3.6" dy="-2.9">2</tspan><tspan dy="2.9">=</tspan>99.4%</text>
<text x="253.2" y="526.1" font-family="Liberation Sans, sans-serif" font-size="8.9" fill="#1e1e1e" stroke="#1e1e1e" stroke-width="0.25" text-anchor="start" >Change in SRI (10<tspan font-size="4.6" dy="-4">-5</tspan><tspan dy="4" dx="0.8"> RIU)</tspan></text>
<text x="293.5" y="544.6" font-family="Liberation Serif, serif" font-size="11.3" fill="#1a1a1a" stroke="#1a1a1a" stroke-width="0.15" text-anchor="middle" >(b)</text>
</svg>
</body></html>
